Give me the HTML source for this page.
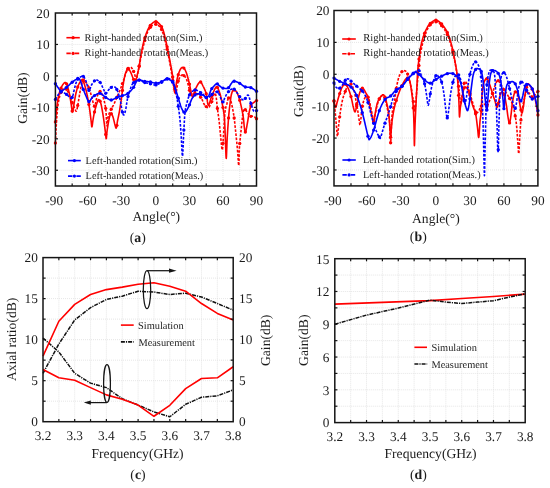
<!DOCTYPE html>
<html><head><meta charset="utf-8"><title>Figure</title>
<style>
html,body{margin:0;padding:0;background:#fff;}
svg{display:block;font-family:"Liberation Serif", serif;}
</style></head>
<body>
<svg width="550" height="488" viewBox="0 0 550 488" text-rendering="geometricPrecision">
<rect width="550" height="488" fill="#ffffff"/>
<line x1="72.16" y1="13.0" x2="72.16" y2="186.0" stroke="#e0e0e0" stroke-width="0.8" stroke-dasharray="1 1"/>
<line x1="88.92" y1="13.0" x2="88.92" y2="186.0" stroke="#e0e0e0" stroke-width="0.8" stroke-dasharray="1 1"/>
<line x1="105.67" y1="13.0" x2="105.67" y2="186.0" stroke="#e0e0e0" stroke-width="0.8" stroke-dasharray="1 1"/>
<line x1="122.43" y1="13.0" x2="122.43" y2="186.0" stroke="#e0e0e0" stroke-width="0.8" stroke-dasharray="1 1"/>
<line x1="139.19" y1="13.0" x2="139.19" y2="186.0" stroke="#e0e0e0" stroke-width="0.8" stroke-dasharray="1 1"/>
<line x1="155.95" y1="13.0" x2="155.95" y2="186.0" stroke="#e0e0e0" stroke-width="0.8" stroke-dasharray="1 1"/>
<line x1="172.71" y1="13.0" x2="172.71" y2="186.0" stroke="#e0e0e0" stroke-width="0.8" stroke-dasharray="1 1"/>
<line x1="189.47" y1="13.0" x2="189.47" y2="186.0" stroke="#e0e0e0" stroke-width="0.8" stroke-dasharray="1 1"/>
<line x1="206.22" y1="13.0" x2="206.22" y2="186.0" stroke="#e0e0e0" stroke-width="0.8" stroke-dasharray="1 1"/>
<line x1="222.98" y1="13.0" x2="222.98" y2="186.0" stroke="#e0e0e0" stroke-width="0.8" stroke-dasharray="1 1"/>
<line x1="239.74" y1="13.0" x2="239.74" y2="186.0" stroke="#e0e0e0" stroke-width="0.8" stroke-dasharray="1 1"/>
<line x1="55.4" y1="170.27" x2="256.5" y2="170.27" stroke="#e0e0e0" stroke-width="0.8" stroke-dasharray="1 1"/>
<line x1="55.4" y1="138.82" x2="256.5" y2="138.82" stroke="#e0e0e0" stroke-width="0.8" stroke-dasharray="1 1"/>
<line x1="55.4" y1="107.36" x2="256.5" y2="107.36" stroke="#e0e0e0" stroke-width="0.8" stroke-dasharray="1 1"/>
<line x1="55.4" y1="75.91" x2="256.5" y2="75.91" stroke="#e0e0e0" stroke-width="0.8" stroke-dasharray="1 1"/>
<line x1="55.4" y1="44.45" x2="256.5" y2="44.45" stroke="#e0e0e0" stroke-width="0.8" stroke-dasharray="1 1"/>
<polyline points="55.40,121.90 55.54,120.27 55.74,117.95 55.98,115.27 56.24,112.51 56.50,110.00 56.75,107.74 57.00,105.54 57.27,103.36 57.60,101.19 58.00,99.00 58.48,96.71 59.02,94.34 59.61,92.00 60.27,89.85 61.00,88.00 61.84,86.31 62.78,84.68 63.77,83.36 64.73,82.55 65.60,82.50 66.38,83.42 67.11,85.15 67.80,87.37 68.43,89.76 69.00,92.00 69.50,94.14 69.92,96.39 70.30,98.67 70.65,100.90 71.00,103.00 71.33,105.20 71.64,107.56 71.92,109.72 72.21,111.32 72.50,112.00 72.79,111.54 73.08,110.17 73.36,108.23 73.67,106.06 74.00,104.00 74.36,101.94 74.74,99.67 75.14,97.33 75.56,95.06 76.00,93.00 76.47,91.14 76.96,89.39 77.48,87.77 77.99,86.30 78.50,85.00 79.01,83.90 79.54,82.97 80.05,82.19 80.55,81.54 81.00,81.00 81.37,80.43 81.68,79.86 81.98,79.46 82.32,79.45 82.75,80.00 83.31,81.22 83.95,82.97 84.65,85.11 85.34,87.50 86.00,90.00 86.63,92.68 87.27,95.64 87.88,98.76 88.47,101.92 89.00,105.00 89.48,108.13 89.92,111.39 90.33,114.58 90.69,117.52 91.00,120.00 91.25,122.12 91.43,124.01 91.58,125.52 91.72,126.53 91.90,126.90 92.10,126.42 92.31,125.19 92.52,123.50 92.75,121.67 93.00,120.00 93.26,118.49 93.52,116.93 93.81,115.32 94.13,113.68 94.50,112.00 94.95,110.17 95.46,108.20 96.00,106.24 96.53,104.46 97.00,103.00 97.40,101.84 97.75,100.86 98.08,100.13 98.43,99.69 98.80,99.60 99.21,99.83 99.64,100.34 100.08,101.17 100.53,102.38 101.00,104.00 101.49,106.17 102.00,108.86 102.52,111.87 103.03,114.98 103.50,118.00 103.95,121.08 104.40,124.37 104.81,127.62 105.19,130.58 105.50,133.00 105.73,134.97 105.88,136.66 106.00,137.94 106.11,138.68 106.25,138.75 106.41,138.00 106.55,136.50 106.71,134.50 106.92,132.25 107.20,130.00 107.58,127.52 108.05,124.64 108.55,121.70 109.05,119.04 109.50,117.00 109.89,115.62 110.24,114.69 110.58,114.11 110.91,113.83 111.25,113.75 111.60,113.91 111.94,114.35 112.28,115.05 112.63,115.94 113.00,117.00 113.40,118.37 113.82,120.09 114.24,121.92 114.64,123.64 115.00,125.00 115.30,126.10 115.55,127.08 115.79,127.83 116.01,128.21 116.25,128.10 116.50,127.32 116.75,125.94 117.00,124.25 117.25,122.51 117.50,121.00 117.75,119.75 118.00,118.57 118.25,117.42 118.50,116.25 118.75,115.00 118.99,113.76 119.22,112.56 119.45,111.28 119.71,109.80 120.00,108.00 120.35,105.74 120.75,103.09 121.16,100.27 121.55,97.50 121.90,95.00 122.17,92.81 122.40,90.78 122.60,88.86 122.83,86.95 123.10,85.00 123.44,82.92 123.81,80.76 124.21,78.64 124.61,76.68 125.00,75.00 125.39,73.62 125.78,72.47 126.17,71.50 126.55,70.69 126.90,70.00 127.21,69.40 127.48,68.90 127.74,68.57 128.04,68.45 128.40,68.60 128.86,69.10 129.39,69.91 129.95,70.92 130.50,71.99 131.00,73.00 131.43,73.97 131.82,74.99 132.20,76.02 132.58,77.04 133.00,78.00 133.47,79.07 133.97,80.26 134.49,81.35 134.97,82.10 135.40,82.30 135.75,81.83 136.03,80.85 136.29,79.52 136.57,77.98 136.90,76.40 137.30,74.74 137.76,72.88 138.23,70.90 138.68,68.86 139.10,66.80 139.45,64.74 139.76,62.64 140.06,60.48 140.37,58.27 140.75,56.00 141.20,53.59 141.69,51.04 142.21,48.47 142.74,46.00 143.25,43.75 143.74,41.76 144.22,39.94 144.70,38.24 145.21,36.61 145.75,35.00 146.34,33.36 146.97,31.74 147.61,30.18 148.26,28.75 148.90,27.50 149.51,26.46 150.11,25.59 150.72,24.86 151.34,24.21 152.00,23.60 152.71,22.99 153.45,22.41 154.22,21.92 154.99,21.60 155.75,21.50 156.51,21.67 157.28,22.06 158.05,22.62 158.79,23.28 159.50,24.00 160.17,24.74 160.82,25.55 161.43,26.45 162.03,27.51 162.60,28.75 163.15,30.24 163.67,31.96 164.17,33.81 164.65,35.69 165.10,37.50 165.51,39.19 165.87,40.82 166.23,42.48 166.59,44.26 167.00,46.25 167.47,48.55 167.99,51.10 168.51,53.75 169.03,56.35 169.50,58.75 169.93,60.95 170.34,63.06 170.72,65.07 171.07,66.97 171.40,68.75 171.69,70.33 171.93,71.70 172.16,73.02 172.37,74.40 172.60,76.00 172.83,77.92 173.06,80.08 173.29,82.29 173.51,84.41 173.75,86.25 173.98,88.06 174.21,89.94 174.45,91.54 174.71,92.51 175.00,92.50 175.32,91.16 175.66,88.73 176.02,85.72 176.43,82.64 176.90,80.00 177.44,77.72 178.05,75.46 178.70,73.34 179.36,71.48 180.00,70.00 180.62,68.90 181.24,68.10 181.86,67.60 182.48,67.40 183.10,67.50 183.73,67.92 184.36,68.66 184.99,69.69 185.62,70.98 186.25,72.50 186.88,74.32 187.51,76.45 188.14,78.81 188.77,81.27 189.40,83.75 190.02,86.62 190.64,89.94 191.26,93.15 191.88,95.69 192.50,97.00 193.10,96.70 193.68,95.18 194.27,92.98 194.90,90.65 195.60,88.75 196.42,87.11 197.33,85.37 198.27,83.77 199.18,82.53 200.00,81.90 200.70,82.00 201.33,82.68 201.92,83.75 202.50,85.00 203.10,86.25 203.74,87.48 204.41,88.83 205.07,90.31 205.69,91.94 206.25,93.75 206.72,96.11 207.11,99.01 207.47,101.88 207.85,104.16 208.30,105.30 208.83,104.97 209.41,103.56 210.01,101.53 210.63,99.35 211.25,97.50 211.88,95.91 212.53,94.27 213.18,92.67 213.81,91.21 214.40,90.00 214.93,88.94 215.42,87.97 215.89,87.21 216.37,86.81 216.90,86.90 217.49,87.56 218.13,88.71 218.77,90.22 219.41,91.94 220.00,93.75 220.55,95.69 221.07,97.85 221.57,100.16 222.05,102.57 222.50,105.00 222.93,107.34 223.35,109.64 223.73,112.07 224.09,114.80 224.40,118.00 224.66,121.88 224.87,126.32 225.05,131.02 225.22,135.68 225.40,140.00 225.58,144.55 225.75,149.52 225.91,154.08 226.08,157.35 226.25,158.50 226.42,156.93 226.59,153.20 226.77,148.21 226.97,142.85 227.20,138.00 227.48,133.47 227.79,128.66 228.12,123.87 228.45,119.42 228.75,115.60 229.02,112.56 229.26,110.11 229.50,108.01 229.74,106.04 230.00,104.00 230.27,101.80 230.55,99.60 230.83,97.49 231.15,95.59 231.50,94.00 231.89,92.71 232.30,91.66 232.75,90.84 233.23,90.29 233.75,90.00 234.32,89.98 234.95,90.23 235.60,90.74 236.26,91.50 236.90,92.50 237.52,93.75 238.14,95.26 238.76,97.02 239.38,99.02 240.00,101.25 240.65,103.86 241.33,106.85 241.99,110.01 242.60,113.13 243.10,116.00 243.48,118.71 243.75,121.39 243.97,123.92 244.18,126.16 244.40,128.00 244.64,129.51 244.85,130.78 245.07,131.69 245.32,132.10 245.60,131.90 245.94,130.90 246.31,129.19 246.71,127.03 247.11,124.71 247.50,122.50 247.88,120.29 248.26,117.89 248.64,115.48 249.02,113.21 249.40,111.25 249.76,109.62 250.11,108.21 250.47,106.99 250.84,105.93 251.25,105.00 251.70,104.25 252.19,103.70 252.70,103.28 253.22,102.90 253.75,102.50 254.33,102.05 254.96,101.61 255.59,101.19 256.12,100.85 256.50,100.60" fill="none" stroke="#ff0000" stroke-width="1.6" stroke-linejoin="round" stroke-linecap="butt"/>
<circle cx="55.40" cy="121.90" r="1.65" fill="#ff0000"/>
<circle cx="60.99" cy="88.04" r="1.65" fill="#ff0000"/>
<circle cx="66.57" cy="83.87" r="1.65" fill="#ff0000"/>
<circle cx="72.16" cy="111.04" r="1.65" fill="#ff0000"/>
<circle cx="77.74" cy="87.00" r="1.65" fill="#ff0000"/>
<circle cx="83.33" cy="81.28" r="1.65" fill="#ff0000"/>
<circle cx="88.92" cy="104.52" r="1.65" fill="#ff0000"/>
<circle cx="94.50" cy="111.99" r="1.65" fill="#ff0000"/>
<circle cx="100.09" cy="101.20" r="1.65" fill="#ff0000"/>
<circle cx="105.67" cy="134.52" r="1.65" fill="#ff0000"/>
<circle cx="111.26" cy="113.76" r="1.65" fill="#ff0000"/>
<circle cx="116.85" cy="125.28" r="1.65" fill="#ff0000"/>
<circle cx="122.43" cy="90.44" r="1.65" fill="#ff0000"/>
<circle cx="128.02" cy="68.46" r="1.65" fill="#ff0000"/>
<circle cx="133.61" cy="79.39" r="1.65" fill="#ff0000"/>
<circle cx="139.19" cy="66.26" r="1.65" fill="#ff0000"/>
<circle cx="144.78" cy="38.00" r="1.65" fill="#ff0000"/>
<circle cx="150.36" cy="25.29" r="1.65" fill="#ff0000"/>
<circle cx="155.95" cy="21.54" r="1.65" fill="#ff0000"/>
<circle cx="161.54" cy="26.63" r="1.65" fill="#ff0000"/>
<circle cx="167.12" cy="46.85" r="1.65" fill="#ff0000"/>
<circle cx="172.71" cy="76.90" r="1.65" fill="#ff0000"/>
<circle cx="178.29" cy="74.67" r="1.65" fill="#ff0000"/>
<circle cx="183.88" cy="68.10" r="1.65" fill="#ff0000"/>
<circle cx="189.47" cy="84.06" r="1.65" fill="#ff0000"/>
<circle cx="195.05" cy="90.23" r="1.65" fill="#ff0000"/>
<circle cx="200.64" cy="81.99" r="1.65" fill="#ff0000"/>
<circle cx="206.22" cy="93.67" r="1.65" fill="#ff0000"/>
<circle cx="211.81" cy="96.08" r="1.65" fill="#ff0000"/>
<circle cx="217.40" cy="87.46" r="1.65" fill="#ff0000"/>
<circle cx="222.98" cy="107.62" r="1.65" fill="#ff0000"/>
<circle cx="228.57" cy="117.90" r="1.65" fill="#ff0000"/>
<circle cx="234.16" cy="89.99" r="1.65" fill="#ff0000"/>
<circle cx="239.74" cy="100.32" r="1.65" fill="#ff0000"/>
<circle cx="245.33" cy="132.09" r="1.65" fill="#ff0000"/>
<circle cx="250.91" cy="105.76" r="1.65" fill="#ff0000"/>
<circle cx="256.50" cy="100.60" r="1.65" fill="#ff0000"/>
<polyline points="55.40,143.10 55.52,140.62 55.68,137.11 55.87,133.03 56.08,128.84 56.30,125.00 56.52,121.47 56.74,117.93 56.98,114.46 57.26,111.13 57.60,108.00 58.00,105.03 58.45,102.18 58.94,99.50 59.46,97.09 60.00,95.00 60.57,93.27 61.18,91.86 61.81,90.70 62.42,89.77 63.00,89.00 63.52,88.37 63.99,87.90 64.45,87.66 64.94,87.67 65.50,88.00 66.14,88.72 66.85,89.80 67.59,91.12 68.32,92.56 69.00,94.00 69.63,95.49 70.24,97.10 70.82,98.78 71.41,100.43 72.00,102.00 72.62,103.54 73.27,105.11 73.91,106.61 74.50,107.94 75.00,109.00 75.40,109.86 75.71,110.59 75.97,111.09 76.22,111.26 76.50,111.00 76.79,110.26 77.08,109.09 77.36,107.59 77.67,105.86 78.00,104.00 78.37,101.87 78.76,99.42 79.18,96.82 79.59,94.29 80.00,92.00 80.41,89.91 80.83,87.90 81.25,86.02 81.64,84.37 82.00,83.00 82.28,81.93 82.50,81.10 82.71,80.52 82.96,80.15 83.30,80.00 83.75,80.10 84.27,80.47 84.84,81.03 85.42,81.73 86.00,82.50 86.56,83.30 87.14,84.18 87.72,85.19 88.30,86.38 88.90,87.80 89.52,89.56 90.15,91.62 90.79,93.82 91.42,96.00 92.00,98.00 92.54,100.06 93.04,102.30 93.53,104.34 94.01,105.80 94.50,106.30 94.99,105.51 95.47,103.66 95.96,101.29 96.46,98.90 97.00,97.00 97.58,95.48 98.21,94.00 98.85,92.73 99.48,91.84 100.10,91.50 100.70,91.80 101.28,92.62 101.86,93.84 102.44,95.34 103.00,97.00 103.58,98.82 104.16,100.88 104.73,103.18 105.25,105.72 105.70,108.50 106.05,112.06 106.32,116.39 106.55,120.69 106.76,124.16 107.00,126.00 107.23,125.71 107.44,123.83 107.66,121.09 107.93,118.24 108.30,116.00 108.79,114.41 109.37,112.97 110.01,111.65 110.65,110.41 111.25,109.20 111.81,108.09 112.35,107.09 112.89,106.13 113.44,105.13 114.00,104.00 114.58,102.72 115.18,101.33 115.79,99.89 116.40,98.43 117.00,97.00 117.60,95.62 118.20,94.25 118.80,92.87 119.40,91.46 120.00,90.00 120.60,88.48 121.20,86.92 121.80,85.32 122.40,83.68 123.00,82.00 123.61,80.19 124.22,78.26 124.84,76.32 125.43,74.53 126.00,73.00 126.54,71.76 127.06,70.73 127.55,69.86 128.03,69.13 128.50,68.50 128.94,67.95 129.35,67.51 129.76,67.20 130.17,67.06 130.60,67.10 131.07,67.36 131.56,67.83 132.05,68.45 132.54,69.18 133.00,70.00 133.44,70.95 133.87,72.06 134.28,73.25 134.66,74.42 135.00,75.50 135.28,76.66 135.51,77.97 135.72,79.15 135.93,79.92 136.20,80.00 136.50,79.31 136.82,78.04 137.16,76.30 137.55,74.25 138.00,72.00 138.52,69.42 139.11,66.43 139.74,63.23 140.38,60.02 141.00,57.00 141.60,54.15 142.20,51.32 142.80,48.58 143.40,45.95 144.00,43.50 144.60,41.21 145.20,39.05 145.80,37.03 146.40,35.18 147.00,33.50 147.60,32.02 148.20,30.73 148.80,29.60 149.40,28.59 150.00,27.70 150.61,26.93 151.22,26.30 151.83,25.79 152.43,25.36 153.00,25.00 153.54,24.70 154.05,24.48 154.56,24.35 155.07,24.29 155.60,24.30 156.16,24.37 156.73,24.51 157.32,24.73 157.91,25.05 158.50,25.50 159.10,26.07 159.72,26.75 160.33,27.55 160.93,28.46 161.50,29.50 162.03,30.66 162.54,31.94 163.02,33.34 163.51,34.86 164.00,36.50 164.50,38.28 165.00,40.19 165.50,42.21 166.00,44.32 166.50,46.50 167.01,48.79 167.52,51.20 168.04,53.68 168.53,56.13 169.00,58.50 169.43,60.74 169.84,62.90 170.22,65.04 170.61,67.22 171.00,69.50 171.39,71.92 171.77,74.43 172.16,76.98 172.56,79.52 173.00,82.00 173.48,84.77 174.01,87.88 174.55,90.78 175.08,92.92 175.60,93.75 176.09,92.81 176.57,90.45 177.04,87.39 177.52,84.34 178.00,82.00 178.49,80.40 178.99,79.07 179.49,77.97 179.99,77.06 180.50,76.30 181.00,75.68 181.51,75.22 182.02,74.95 182.54,74.87 183.10,75.00 183.71,75.37 184.36,75.97 185.03,76.76 185.67,77.70 186.25,78.75 186.77,80.00 187.25,81.46 187.70,83.02 188.11,84.57 188.50,86.00 188.83,87.34 189.11,88.68 189.36,89.95 189.65,91.08 190.00,92.00 190.44,92.70 190.93,93.22 191.45,93.59 191.98,93.84 192.50,94.00 192.98,93.99 193.45,93.80 193.93,93.54 194.44,93.33 195.00,93.30 195.64,93.45 196.34,93.70 197.07,94.05 197.80,94.48 198.50,95.00 199.17,95.62 199.84,96.34 200.50,97.15 201.12,98.01 201.70,98.90 202.22,99.88 202.69,100.97 203.13,102.08 203.56,103.12 204.00,104.00 204.45,104.70 204.89,105.28 205.32,105.77 205.76,106.20 206.20,106.60 206.65,107.02 207.11,107.43 207.56,107.78 208.00,107.99 208.40,108.00 208.76,107.77 209.08,107.34 209.38,106.77 209.68,106.14 210.00,105.50 210.34,104.87 210.69,104.21 211.04,103.49 211.40,102.69 211.75,101.80 212.10,100.73 212.46,99.50 212.82,98.22 213.17,97.01 213.50,96.00 213.82,95.09 214.13,94.21 214.43,93.49 214.72,93.04 215.00,93.00 215.28,93.41 215.55,94.20 215.81,95.28 216.06,96.57 216.30,98.00 216.51,99.60 216.69,101.42 216.86,103.41 217.06,105.52 217.30,107.70 217.60,109.95 217.94,112.30 218.30,114.76 218.66,117.33 219.00,120.00 219.31,122.83 219.60,125.81 219.89,128.87 220.19,131.96 220.50,135.00 220.84,138.48 221.21,142.44 221.57,146.16 221.93,148.92 222.25,150.00 222.53,149.05 222.77,146.54 223.01,143.02 223.24,138.99 223.50,135.00 223.78,130.68 224.06,125.67 224.36,120.52 224.67,115.78 225.00,112.00 225.37,109.35 225.76,107.48 226.17,106.11 226.56,104.96 226.90,103.75 227.18,102.48 227.42,101.34 227.64,100.32 227.86,99.46 228.10,98.75 228.36,98.16 228.63,97.68 228.91,97.37 229.19,97.29 229.50,97.50 229.82,97.98 230.14,98.69 230.48,99.66 230.85,100.92 231.25,102.50 231.71,104.46 232.23,106.79 232.76,109.39 233.28,112.16 233.75,115.00 234.16,117.93 234.53,121.00 234.89,124.22 235.24,127.55 235.60,131.00 235.99,134.66 236.39,138.55 236.78,142.50 237.16,146.37 237.50,150.00 237.80,153.87 238.08,158.08 238.32,161.91 238.55,164.66 238.75,165.60 238.91,164.13 239.03,160.73 239.13,156.30 239.24,151.76 239.40,148.00 239.60,145.10 239.84,142.44 240.09,139.94 240.34,137.49 240.60,135.00 240.86,132.43 241.12,129.84 241.38,127.30 241.64,124.83 241.90,122.50 242.14,120.23 242.35,117.99 242.57,115.88 242.82,114.02 243.10,112.50 243.42,111.32 243.75,110.41 244.12,109.77 244.53,109.43 245.00,109.40 245.55,109.82 246.18,110.69 246.85,111.79 247.50,112.88 248.10,113.75 248.63,114.41 249.11,115.00 249.58,115.52 250.07,115.94 250.60,116.25 251.20,116.37 251.84,116.31 252.51,116.19 253.15,116.13 253.75,116.25 254.33,116.63 254.92,117.19 255.46,117.81 255.92,118.37 256.25,118.75" fill="none" stroke="#ff0000" stroke-width="1.6" stroke-linejoin="round" stroke-linecap="butt" stroke-dasharray="2.6 1.5"/>
<circle cx="55.40" cy="143.10" r="1.65" fill="#ff0000"/>
<circle cx="60.99" cy="92.31" r="1.65" fill="#ff0000"/>
<circle cx="66.57" cy="89.37" r="1.65" fill="#ff0000"/>
<circle cx="72.16" cy="102.39" r="1.65" fill="#ff0000"/>
<circle cx="77.74" cy="105.43" r="1.65" fill="#ff0000"/>
<circle cx="83.33" cy="80.01" r="1.65" fill="#ff0000"/>
<circle cx="88.92" cy="87.85" r="1.65" fill="#ff0000"/>
<circle cx="94.50" cy="106.30" r="1.65" fill="#ff0000"/>
<circle cx="100.09" cy="91.51" r="1.65" fill="#ff0000"/>
<circle cx="105.67" cy="108.34" r="1.65" fill="#ff0000"/>
<circle cx="111.26" cy="109.18" r="1.65" fill="#ff0000"/>
<circle cx="116.85" cy="97.36" r="1.65" fill="#ff0000"/>
<circle cx="122.43" cy="83.59" r="1.65" fill="#ff0000"/>
<circle cx="128.02" cy="69.15" r="1.65" fill="#ff0000"/>
<circle cx="133.61" cy="71.38" r="1.65" fill="#ff0000"/>
<circle cx="139.19" cy="66.03" r="1.65" fill="#ff0000"/>
<circle cx="144.78" cy="40.57" r="1.65" fill="#ff0000"/>
<circle cx="150.36" cy="27.24" r="1.65" fill="#ff0000"/>
<circle cx="155.95" cy="24.35" r="1.65" fill="#ff0000"/>
<circle cx="161.54" cy="29.58" r="1.65" fill="#ff0000"/>
<circle cx="167.12" cy="49.32" r="1.65" fill="#ff0000"/>
<circle cx="172.71" cy="80.35" r="1.65" fill="#ff0000"/>
<circle cx="178.29" cy="81.04" r="1.65" fill="#ff0000"/>
<circle cx="183.88" cy="75.53" r="1.65" fill="#ff0000"/>
<circle cx="189.47" cy="90.36" r="1.65" fill="#ff0000"/>
<circle cx="195.05" cy="93.31" r="1.65" fill="#ff0000"/>
<circle cx="200.64" cy="97.34" r="1.65" fill="#ff0000"/>
<circle cx="206.22" cy="106.62" r="1.65" fill="#ff0000"/>
<circle cx="211.81" cy="101.62" r="1.65" fill="#ff0000"/>
<circle cx="217.40" cy="108.43" r="1.65" fill="#ff0000"/>
<circle cx="222.98" cy="143.36" r="1.65" fill="#ff0000"/>
<circle cx="228.57" cy="97.79" r="1.65" fill="#ff0000"/>
<circle cx="234.16" cy="117.89" r="1.65" fill="#ff0000"/>
<circle cx="239.74" cy="143.52" r="1.65" fill="#ff0000"/>
<circle cx="245.33" cy="109.65" r="1.65" fill="#ff0000"/>
<circle cx="250.91" cy="116.31" r="1.65" fill="#ff0000"/>
<circle cx="256.50" cy="118.75" r="1.65" fill="#ff0000"/>
<polyline points="55.40,83.75 55.75,84.26 56.23,84.98 56.81,85.82 57.41,86.69 58.00,87.50 58.58,88.32 59.20,89.23 59.82,90.09 60.43,90.79 61.00,91.20 61.52,91.26 62.01,91.06 62.48,90.68 62.97,90.23 63.50,89.80 64.04,89.41 64.58,89.00 65.15,88.54 65.81,87.98 66.60,87.30 67.60,86.40 68.77,85.32 70.01,84.17 71.19,83.09 72.20,82.20 73.01,81.53 73.70,81.00 74.30,80.57 74.89,80.18 75.50,79.80 76.15,79.38 76.81,78.93 77.46,78.55 78.06,78.32 78.60,78.30 79.05,78.49 79.42,78.85 79.75,79.37 80.10,80.09 80.50,81.00 80.96,82.20 81.44,83.66 81.94,85.28 82.46,86.94 83.00,88.50 83.55,90.00 84.13,91.50 84.71,92.99 85.31,94.43 85.90,95.80 86.50,97.22 87.11,98.70 87.72,100.06 88.32,101.12 88.90,101.70 89.44,101.64 89.95,101.06 90.45,100.20 90.96,99.27 91.50,98.50 92.03,97.89 92.55,97.29 93.09,96.70 93.73,96.14 94.50,95.60 95.45,95.00 96.55,94.33 97.74,93.73 98.94,93.34 100.10,93.30 101.22,93.73 102.34,94.55 103.46,95.56 104.58,96.57 105.70,97.40 106.81,98.10 107.92,98.80 109.03,99.41 110.14,99.84 111.25,100.00 112.36,99.80 113.47,99.30 114.58,98.63 115.69,97.95 116.80,97.40 117.92,96.99 119.06,96.62 120.19,96.29 121.31,95.95 122.40,95.60 123.44,95.29 124.45,95.05 125.45,94.77 126.46,94.36 127.50,93.75 128.63,92.87 129.82,91.79 131.01,90.58 132.13,89.33 133.10,88.10 133.90,86.83 134.57,85.45 135.15,84.10 135.70,82.87 136.25,81.90 136.74,81.19 137.15,80.68 137.55,80.33 138.06,80.11 138.75,80.00 139.68,80.06 140.79,80.30 141.99,80.64 143.22,80.99 144.40,81.25 145.52,81.41 146.64,81.53 147.76,81.63 148.88,81.74 150.00,81.90 151.12,82.14 152.24,82.46 153.36,82.77 154.48,83.00 155.60,83.10 156.73,83.04 157.86,82.87 158.99,82.62 160.12,82.29 161.25,81.90 162.38,81.34 163.51,80.58 164.64,79.82 165.77,79.24 166.90,79.00 168.07,79.17 169.29,79.61 170.49,80.27 171.58,81.05 172.50,81.90 173.19,82.78 173.69,83.73 174.11,84.81 174.51,86.06 175.00,87.50 175.58,89.22 176.19,91.18 176.83,93.29 177.47,95.43 178.10,97.50 178.73,99.58 179.36,101.74 179.99,103.86 180.62,105.82 181.25,107.50 181.89,108.94 182.54,110.22 183.19,111.28 183.81,112.06 184.40,112.50 184.94,112.52 185.45,112.16 185.93,111.54 186.41,110.78 186.90,110.00 187.40,109.18 187.90,108.24 188.40,107.21 188.90,106.12 189.40,105.00 189.89,103.79 190.37,102.47 190.86,101.13 191.36,99.86 191.90,98.75 192.49,97.80 193.13,96.95 193.77,96.20 194.41,95.55 195.00,95.00 195.53,94.56 196.01,94.23 196.49,93.99 196.97,93.84 197.50,93.75 198.08,93.75 198.69,93.85 199.33,94.01 199.97,94.20 200.60,94.40 201.24,94.60 201.89,94.82 202.53,95.06 203.16,95.32 203.75,95.60 204.29,95.96 204.80,96.41 205.28,96.84 205.76,97.17 206.25,97.30 206.75,97.25 207.25,97.08 207.75,96.76 208.25,96.28 208.75,95.60 209.24,94.63 209.72,93.37 210.20,91.99 210.71,90.65 211.25,89.50 211.85,88.55 212.49,87.68 213.16,86.91 213.80,86.21 214.40,85.60 214.93,85.03 215.42,84.50 215.89,84.08 216.37,83.81 216.90,83.75 217.48,83.98 218.10,84.47 218.73,85.09 219.37,85.72 220.00,86.25 220.59,86.69 221.15,87.13 221.72,87.52 222.36,87.86 223.10,88.10 224.01,88.28 225.06,88.43 226.16,88.48 227.20,88.39 228.10,88.10 228.82,87.52 229.42,86.69 229.95,85.74 230.46,84.80 231.00,84.00 231.51,83.29 231.97,82.58 232.45,81.95 233.02,81.48 233.75,81.25 234.70,81.29 235.80,81.57 237.00,82.00 238.23,82.53 239.40,83.10 240.52,83.79 241.64,84.63 242.76,85.52 243.88,86.31 245.00,86.90 246.12,87.17 247.23,87.22 248.34,87.19 249.46,87.23 250.60,87.50 251.86,88.11 253.22,88.95 254.55,89.87 255.69,90.69 256.50,91.25" fill="none" stroke="#0000ff" stroke-width="1.6" stroke-linejoin="round" stroke-linecap="butt"/>
<circle cx="55.40" cy="83.75" r="1.65" fill="#0000ff"/>
<circle cx="60.99" cy="91.19" r="1.65" fill="#0000ff"/>
<circle cx="66.57" cy="87.32" r="1.65" fill="#0000ff"/>
<circle cx="72.16" cy="82.24" r="1.65" fill="#0000ff"/>
<circle cx="77.74" cy="78.44" r="1.65" fill="#0000ff"/>
<circle cx="83.33" cy="89.39" r="1.65" fill="#0000ff"/>
<circle cx="88.92" cy="101.70" r="1.65" fill="#0000ff"/>
<circle cx="94.50" cy="95.60" r="1.65" fill="#0000ff"/>
<circle cx="100.09" cy="93.30" r="1.65" fill="#0000ff"/>
<circle cx="105.67" cy="97.38" r="1.65" fill="#0000ff"/>
<circle cx="111.26" cy="100.00" r="1.65" fill="#0000ff"/>
<circle cx="116.85" cy="97.38" r="1.65" fill="#0000ff"/>
<circle cx="122.43" cy="95.59" r="1.65" fill="#0000ff"/>
<circle cx="128.02" cy="93.35" r="1.65" fill="#0000ff"/>
<circle cx="133.61" cy="87.29" r="1.65" fill="#0000ff"/>
<circle cx="139.19" cy="80.03" r="1.65" fill="#0000ff"/>
<circle cx="144.78" cy="81.30" r="1.65" fill="#0000ff"/>
<circle cx="150.36" cy="81.98" r="1.65" fill="#0000ff"/>
<circle cx="155.95" cy="83.08" r="1.65" fill="#0000ff"/>
<circle cx="161.54" cy="81.76" r="1.65" fill="#0000ff"/>
<circle cx="167.12" cy="79.03" r="1.65" fill="#0000ff"/>
<circle cx="172.71" cy="82.17" r="1.65" fill="#0000ff"/>
<circle cx="178.29" cy="98.15" r="1.65" fill="#0000ff"/>
<circle cx="183.88" cy="112.11" r="1.65" fill="#0000ff"/>
<circle cx="189.47" cy="104.84" r="1.65" fill="#0000ff"/>
<circle cx="195.05" cy="94.96" r="1.65" fill="#0000ff"/>
<circle cx="200.64" cy="94.41" r="1.65" fill="#0000ff"/>
<circle cx="206.22" cy="97.29" r="1.65" fill="#0000ff"/>
<circle cx="211.81" cy="88.61" r="1.65" fill="#0000ff"/>
<circle cx="217.40" cy="83.95" r="1.65" fill="#0000ff"/>
<circle cx="222.98" cy="88.06" r="1.65" fill="#0000ff"/>
<circle cx="228.57" cy="87.72" r="1.65" fill="#0000ff"/>
<circle cx="234.16" cy="81.27" r="1.65" fill="#0000ff"/>
<circle cx="239.74" cy="83.31" r="1.65" fill="#0000ff"/>
<circle cx="245.33" cy="86.98" r="1.65" fill="#0000ff"/>
<circle cx="250.91" cy="87.65" r="1.65" fill="#0000ff"/>
<circle cx="256.50" cy="91.25" r="1.65" fill="#0000ff"/>
<polyline points="55.40,99.40 55.75,98.78 56.23,97.88 56.81,96.86 57.41,95.85 58.00,95.00 58.58,94.27 59.20,93.57 59.82,92.94 60.43,92.44 61.00,92.10 61.52,91.96 62.01,91.99 62.48,92.14 62.97,92.36 63.50,92.60 64.08,92.86 64.71,93.18 65.35,93.55 65.98,93.96 66.60,94.40 67.21,94.92 67.82,95.53 68.41,96.15 68.98,96.73 69.50,97.20 69.97,97.60 70.39,97.97 70.78,98.26 71.15,98.39 71.50,98.30 71.83,97.97 72.14,97.45 72.42,96.76 72.71,95.94 73.00,95.00 73.30,93.90 73.59,92.61 73.89,91.22 74.19,89.82 74.50,88.50 74.83,87.22 75.18,85.93 75.52,84.68 75.87,83.52 76.20,82.50 76.49,81.65 76.75,80.93 77.02,80.31 77.32,79.75 77.70,79.20 78.18,78.67 78.73,78.17 79.32,77.72 79.92,77.33 80.50,77.00 81.06,76.68 81.62,76.35 82.19,76.12 82.75,76.07 83.30,76.30 83.84,76.82 84.38,77.57 84.91,78.52 85.45,79.67 86.00,81.00 86.57,82.82 87.16,85.13 87.75,87.48 88.34,89.39 88.90,90.40 89.43,90.25 89.94,89.25 90.45,87.78 90.96,86.24 91.50,85.00 92.10,84.03 92.73,83.08 93.37,82.20 93.98,81.42 94.50,80.80 94.89,80.32 95.17,79.96 95.42,79.72 95.74,79.63 96.20,79.70 96.86,79.93 97.65,80.32 98.51,80.86 99.35,81.52 100.10,82.30 100.75,83.25 101.34,84.38 101.90,85.60 102.45,86.84 103.00,88.00 103.55,89.22 104.09,90.56 104.62,91.82 105.16,92.80 105.70,93.30 106.25,93.18 106.82,92.57 107.38,91.68 107.94,90.75 108.50,90.00 109.06,89.41 109.63,88.83 110.19,88.28 110.73,87.80 111.25,87.40 111.72,87.05 112.14,86.74 112.55,86.51 112.99,86.42 113.50,86.50 114.09,86.70 114.74,86.97 115.42,87.43 116.12,88.18 116.80,89.30 117.50,90.95 118.23,93.04 118.96,95.39 119.63,97.78 120.20,100.00 120.65,102.12 121.00,104.29 121.29,106.39 121.58,108.33 121.90,110.00 122.26,111.48 122.63,112.84 123.00,113.96 123.38,114.72 123.75,115.00 124.12,114.74 124.49,114.02 124.86,112.93 125.23,111.56 125.60,110.00 125.97,108.11 126.33,105.83 126.69,103.37 127.08,100.94 127.50,98.75 127.95,96.81 128.43,94.98 128.93,93.25 129.45,91.59 130.00,90.00 130.54,88.44 131.07,86.92 131.65,85.50 132.31,84.21 133.10,83.10 134.07,82.15 135.18,81.32 136.37,80.65 137.58,80.20 138.75,80.00 139.88,80.16 141.01,80.66 142.14,81.32 143.27,81.99 144.40,82.50 145.52,82.83 146.64,83.09 147.76,83.31 148.88,83.52 150.00,83.75 151.12,84.06 152.24,84.43 153.36,84.77 154.48,84.99 155.60,85.00 156.73,84.76 157.86,84.33 158.99,83.77 160.12,83.14 161.25,82.50 162.42,81.77 163.63,80.90 164.82,80.02 165.93,79.26 166.90,78.75 167.69,78.51 168.35,78.47 168.93,78.56 169.46,78.76 170.00,79.00 170.53,79.20 171.01,79.38 171.49,79.70 171.97,80.27 172.50,81.25 173.09,82.69 173.73,84.51 174.37,86.61 175.01,88.89 175.60,91.25 176.15,93.74 176.67,96.42 177.17,99.23 177.65,102.11 178.10,105.00 178.53,107.87 178.93,110.77 179.31,113.72 179.67,116.79 180.00,120.00 180.30,123.40 180.57,126.97 180.82,130.64 181.06,134.34 181.30,138.00 181.55,142.31 181.78,147.30 182.02,151.96 182.26,155.28 182.50,156.25 182.75,154.13 183.00,149.59 183.25,143.75 183.50,137.68 183.75,132.50 183.99,128.09 184.22,123.73 184.45,119.56 184.71,115.77 185.00,112.50 185.33,109.90 185.68,107.87 186.07,106.19 186.47,104.64 186.90,103.00 187.35,101.24 187.83,99.49 188.33,97.82 188.85,96.30 189.40,95.00 189.99,93.94 190.63,93.07 191.27,92.37 191.91,91.77 192.50,91.25 193.04,90.81 193.54,90.48 194.03,90.25 194.51,90.09 195.00,90.00 195.49,89.98 195.97,90.04 196.46,90.18 196.96,90.37 197.50,90.60 198.08,90.89 198.69,91.24 199.33,91.63 199.97,92.06 200.60,92.50 201.24,92.96 201.89,93.45 202.53,93.96 203.16,94.48 203.75,95.00 204.29,95.57 204.80,96.20 205.28,96.82 205.76,97.34 206.25,97.70 206.75,97.88 207.25,97.94 207.75,97.88 208.25,97.73 208.75,97.50 209.24,97.15 209.72,96.67 210.20,96.11 210.71,95.54 211.25,95.00 211.84,94.47 212.47,93.91 213.11,93.36 213.76,92.88 214.40,92.50 215.03,92.18 215.67,91.89 216.31,91.69 216.92,91.67 217.50,91.90 218.04,92.43 218.54,93.21 219.03,94.16 219.51,95.20 220.00,96.25 220.50,97.51 221.00,99.03 221.50,100.51 222.00,101.67 222.50,102.20 222.99,101.95 223.47,101.13 223.96,99.95 224.46,98.66 225.00,97.50 225.54,96.42 226.07,95.25 226.65,94.08 227.31,92.97 228.10,92.00 229.07,91.03 230.18,90.02 231.37,89.17 232.58,88.68 233.75,88.75 234.90,89.62 236.07,91.16 237.23,93.00 238.35,94.82 239.40,96.25 240.35,97.38 241.23,98.44 242.07,99.31 242.90,99.87 243.75,100.00 244.65,99.36 245.58,98.03 246.49,96.52 247.35,95.34 248.10,95.00 248.71,95.68 249.20,97.04 249.64,98.81 250.09,100.72 250.60,102.50 251.19,104.32 251.83,106.36 252.49,108.37 253.14,110.08 253.75,111.25 254.37,111.71 255.01,111.64 255.62,111.26 256.13,110.84 256.50,110.60" fill="none" stroke="#0000ff" stroke-width="1.6" stroke-linejoin="round" stroke-linecap="butt" stroke-dasharray="2.6 1.5"/>
<circle cx="55.40" cy="99.40" r="1.65" fill="#0000ff"/>
<circle cx="60.99" cy="92.11" r="1.65" fill="#0000ff"/>
<circle cx="66.57" cy="94.38" r="1.65" fill="#0000ff"/>
<circle cx="72.16" cy="97.40" r="1.65" fill="#0000ff"/>
<circle cx="77.74" cy="79.15" r="1.65" fill="#0000ff"/>
<circle cx="83.33" cy="76.33" r="1.65" fill="#0000ff"/>
<circle cx="88.92" cy="90.40" r="1.65" fill="#0000ff"/>
<circle cx="94.50" cy="80.80" r="1.65" fill="#0000ff"/>
<circle cx="100.09" cy="82.29" r="1.65" fill="#0000ff"/>
<circle cx="105.67" cy="93.28" r="1.65" fill="#0000ff"/>
<circle cx="111.26" cy="87.39" r="1.65" fill="#0000ff"/>
<circle cx="116.85" cy="89.41" r="1.65" fill="#0000ff"/>
<circle cx="122.43" cy="112.12" r="1.65" fill="#0000ff"/>
<circle cx="128.02" cy="96.55" r="1.65" fill="#0000ff"/>
<circle cx="133.61" cy="82.60" r="1.65" fill="#0000ff"/>
<circle cx="139.19" cy="80.06" r="1.65" fill="#0000ff"/>
<circle cx="144.78" cy="82.61" r="1.65" fill="#0000ff"/>
<circle cx="150.36" cy="83.85" r="1.65" fill="#0000ff"/>
<circle cx="155.95" cy="84.93" r="1.65" fill="#0000ff"/>
<circle cx="161.54" cy="82.32" r="1.65" fill="#0000ff"/>
<circle cx="167.12" cy="78.68" r="1.65" fill="#0000ff"/>
<circle cx="172.71" cy="81.76" r="1.65" fill="#0000ff"/>
<circle cx="178.29" cy="106.30" r="1.65" fill="#0000ff"/>
<circle cx="183.88" cy="130.10" r="1.65" fill="#0000ff"/>
<circle cx="189.47" cy="94.88" r="1.65" fill="#0000ff"/>
<circle cx="195.05" cy="90.00" r="1.65" fill="#0000ff"/>
<circle cx="200.64" cy="92.53" r="1.65" fill="#0000ff"/>
<circle cx="206.22" cy="97.68" r="1.65" fill="#0000ff"/>
<circle cx="211.81" cy="94.49" r="1.65" fill="#0000ff"/>
<circle cx="217.40" cy="91.86" r="1.65" fill="#0000ff"/>
<circle cx="222.98" cy="101.96" r="1.65" fill="#0000ff"/>
<circle cx="228.57" cy="91.53" r="1.65" fill="#0000ff"/>
<circle cx="234.16" cy="89.06" r="1.65" fill="#0000ff"/>
<circle cx="239.74" cy="96.66" r="1.65" fill="#0000ff"/>
<circle cx="245.33" cy="98.39" r="1.65" fill="#0000ff"/>
<circle cx="250.91" cy="103.46" r="1.65" fill="#0000ff"/>
<circle cx="256.50" cy="110.60" r="1.65" fill="#0000ff"/>
<text x="84.60" y="40.60" font-size="10.4" text-anchor="start" font-weight="normal" fill="#1c1c1c">Right-handed rotation(Sim.)</text>
<text x="84.60" y="56.20" font-size="10.4" text-anchor="start" font-weight="normal" fill="#1c1c1c">Right-handed rotation(Meas.)</text>
<text x="85.60" y="163.80" font-size="10.4" text-anchor="start" font-weight="normal" fill="#1c1c1c">Left-handed rotation(Sim.)</text>
<text x="85.60" y="179.20" font-size="10.4" text-anchor="start" font-weight="normal" fill="#1c1c1c">Left-handed rotation(Meas.)</text>
<line x1="66.4" y1="37.7" x2="79.8" y2="37.7" stroke="#ff0000" stroke-width="1.6"/>
<circle cx="73.10" cy="37.7" r="1.6" fill="#ff0000"/>
<line x1="66.4" y1="53.4" x2="79.8" y2="53.4" stroke="#ff0000" stroke-width="1.6" stroke-dasharray="4.4 4.0 4.4"/>
<circle cx="73.10" cy="53.4" r="1.6" fill="#ff0000"/>
<line x1="68.0" y1="160.6" x2="80.8" y2="160.6" stroke="#0000ff" stroke-width="1.6"/>
<circle cx="74.40" cy="160.6" r="1.6" fill="#0000ff"/>
<line x1="68.0" y1="176.1" x2="80.8" y2="176.1" stroke="#0000ff" stroke-width="1.6" stroke-dasharray="4.4 4.0 4.4"/>
<circle cx="74.40" cy="176.1" r="1.6" fill="#0000ff"/>
<rect x="55.4" y="13.0" width="201.10" height="173.00" fill="none" stroke="#151515" stroke-width="1.5"/>
<line x1="72.16" y1="186.0" x2="72.16" y2="183.4" stroke="#151515" stroke-width="1.2"/>
<line x1="72.16" y1="13.0" x2="72.16" y2="15.6" stroke="#151515" stroke-width="1.2"/>
<line x1="88.92" y1="186.0" x2="88.92" y2="183.4" stroke="#151515" stroke-width="1.2"/>
<line x1="88.92" y1="13.0" x2="88.92" y2="15.6" stroke="#151515" stroke-width="1.2"/>
<line x1="105.67" y1="186.0" x2="105.67" y2="183.4" stroke="#151515" stroke-width="1.2"/>
<line x1="105.67" y1="13.0" x2="105.67" y2="15.6" stroke="#151515" stroke-width="1.2"/>
<line x1="122.43" y1="186.0" x2="122.43" y2="183.4" stroke="#151515" stroke-width="1.2"/>
<line x1="122.43" y1="13.0" x2="122.43" y2="15.6" stroke="#151515" stroke-width="1.2"/>
<line x1="139.19" y1="186.0" x2="139.19" y2="183.4" stroke="#151515" stroke-width="1.2"/>
<line x1="139.19" y1="13.0" x2="139.19" y2="15.6" stroke="#151515" stroke-width="1.2"/>
<line x1="155.95" y1="186.0" x2="155.95" y2="183.4" stroke="#151515" stroke-width="1.2"/>
<line x1="155.95" y1="13.0" x2="155.95" y2="15.6" stroke="#151515" stroke-width="1.2"/>
<line x1="172.71" y1="186.0" x2="172.71" y2="183.4" stroke="#151515" stroke-width="1.2"/>
<line x1="172.71" y1="13.0" x2="172.71" y2="15.6" stroke="#151515" stroke-width="1.2"/>
<line x1="189.47" y1="186.0" x2="189.47" y2="183.4" stroke="#151515" stroke-width="1.2"/>
<line x1="189.47" y1="13.0" x2="189.47" y2="15.6" stroke="#151515" stroke-width="1.2"/>
<line x1="206.22" y1="186.0" x2="206.22" y2="183.4" stroke="#151515" stroke-width="1.2"/>
<line x1="206.22" y1="13.0" x2="206.22" y2="15.6" stroke="#151515" stroke-width="1.2"/>
<line x1="222.98" y1="186.0" x2="222.98" y2="183.4" stroke="#151515" stroke-width="1.2"/>
<line x1="222.98" y1="13.0" x2="222.98" y2="15.6" stroke="#151515" stroke-width="1.2"/>
<line x1="239.74" y1="186.0" x2="239.74" y2="183.4" stroke="#151515" stroke-width="1.2"/>
<line x1="239.74" y1="13.0" x2="239.74" y2="15.6" stroke="#151515" stroke-width="1.2"/>
<line x1="55.4" y1="170.27" x2="58.0" y2="170.27" stroke="#151515" stroke-width="1.2"/>
<line x1="256.5" y1="170.27" x2="253.9" y2="170.27" stroke="#151515" stroke-width="1.2"/>
<line x1="55.4" y1="138.82" x2="58.0" y2="138.82" stroke="#151515" stroke-width="1.2"/>
<line x1="256.5" y1="138.82" x2="253.9" y2="138.82" stroke="#151515" stroke-width="1.2"/>
<line x1="55.4" y1="107.36" x2="58.0" y2="107.36" stroke="#151515" stroke-width="1.2"/>
<line x1="256.5" y1="107.36" x2="253.9" y2="107.36" stroke="#151515" stroke-width="1.2"/>
<line x1="55.4" y1="75.91" x2="58.0" y2="75.91" stroke="#151515" stroke-width="1.2"/>
<line x1="256.5" y1="75.91" x2="253.9" y2="75.91" stroke="#151515" stroke-width="1.2"/>
<line x1="55.4" y1="44.45" x2="58.0" y2="44.45" stroke="#151515" stroke-width="1.2"/>
<line x1="256.5" y1="44.45" x2="253.9" y2="44.45" stroke="#151515" stroke-width="1.2"/>
<text x="49.60" y="174.97" font-size="13.3" text-anchor="end" font-weight="normal" fill="#1c1c1c">-30</text>
<text x="49.60" y="143.52" font-size="13.3" text-anchor="end" font-weight="normal" fill="#1c1c1c">-20</text>
<text x="49.60" y="112.06" font-size="13.3" text-anchor="end" font-weight="normal" fill="#1c1c1c">-10</text>
<text x="49.60" y="80.61" font-size="13.3" text-anchor="end" font-weight="normal" fill="#1c1c1c">0</text>
<text x="49.60" y="49.15" font-size="13.3" text-anchor="end" font-weight="normal" fill="#1c1c1c">10</text>
<text x="49.60" y="17.70" font-size="13.3" text-anchor="end" font-weight="normal" fill="#1c1c1c">20</text>
<text x="54.20" y="204.75" font-size="13.3" text-anchor="middle" font-weight="normal" fill="#1c1c1c">-90</text>
<text x="87.72" y="204.75" font-size="13.3" text-anchor="middle" font-weight="normal" fill="#1c1c1c">-60</text>
<text x="121.23" y="204.75" font-size="13.3" text-anchor="middle" font-weight="normal" fill="#1c1c1c">-30</text>
<text x="155.95" y="204.75" font-size="13.3" text-anchor="middle" font-weight="normal" fill="#1c1c1c">0</text>
<text x="189.47" y="204.75" font-size="13.3" text-anchor="middle" font-weight="normal" fill="#1c1c1c">30</text>
<text x="222.98" y="204.75" font-size="13.3" text-anchor="middle" font-weight="normal" fill="#1c1c1c">60</text>
<text x="256.50" y="204.75" font-size="13.3" text-anchor="middle" font-weight="normal" fill="#1c1c1c">90</text>
<text x="156.30" y="220.80" font-size="13.6" text-anchor="middle" font-weight="normal" fill="#1c1c1c">Angle(°)</text>
<text x="26.90" y="98.10" font-size="13.6" text-anchor="middle" font-weight="normal" fill="#1c1c1c" transform="rotate(-90 26.90 98.10)">Gain(dB)</text>
<text x="137.8" y="241.6" font-size="13.8" text-anchor="middle" fill="#1c1c1c">(<tspan font-weight="bold">a</tspan>)</text>
<line x1="350.99" y1="10.5" x2="350.99" y2="185.9" stroke="#e0e0e0" stroke-width="0.8" stroke-dasharray="1 1"/>
<line x1="367.98" y1="10.5" x2="367.98" y2="185.9" stroke="#e0e0e0" stroke-width="0.8" stroke-dasharray="1 1"/>
<line x1="384.98" y1="10.5" x2="384.98" y2="185.9" stroke="#e0e0e0" stroke-width="0.8" stroke-dasharray="1 1"/>
<line x1="401.97" y1="10.5" x2="401.97" y2="185.9" stroke="#e0e0e0" stroke-width="0.8" stroke-dasharray="1 1"/>
<line x1="418.96" y1="10.5" x2="418.96" y2="185.9" stroke="#e0e0e0" stroke-width="0.8" stroke-dasharray="1 1"/>
<line x1="435.95" y1="10.5" x2="435.95" y2="185.9" stroke="#e0e0e0" stroke-width="0.8" stroke-dasharray="1 1"/>
<line x1="452.94" y1="10.5" x2="452.94" y2="185.9" stroke="#e0e0e0" stroke-width="0.8" stroke-dasharray="1 1"/>
<line x1="469.93" y1="10.5" x2="469.93" y2="185.9" stroke="#e0e0e0" stroke-width="0.8" stroke-dasharray="1 1"/>
<line x1="486.92" y1="10.5" x2="486.92" y2="185.9" stroke="#e0e0e0" stroke-width="0.8" stroke-dasharray="1 1"/>
<line x1="503.92" y1="10.5" x2="503.92" y2="185.9" stroke="#e0e0e0" stroke-width="0.8" stroke-dasharray="1 1"/>
<line x1="520.91" y1="10.5" x2="520.91" y2="185.9" stroke="#e0e0e0" stroke-width="0.8" stroke-dasharray="1 1"/>
<line x1="334.0" y1="169.95" x2="537.9" y2="169.95" stroke="#e0e0e0" stroke-width="0.8" stroke-dasharray="1 1"/>
<line x1="334.0" y1="138.06" x2="537.9" y2="138.06" stroke="#e0e0e0" stroke-width="0.8" stroke-dasharray="1 1"/>
<line x1="334.0" y1="106.17" x2="537.9" y2="106.17" stroke="#e0e0e0" stroke-width="0.8" stroke-dasharray="1 1"/>
<line x1="334.0" y1="74.28" x2="537.9" y2="74.28" stroke="#e0e0e0" stroke-width="0.8" stroke-dasharray="1 1"/>
<line x1="334.0" y1="42.39" x2="537.9" y2="42.39" stroke="#e0e0e0" stroke-width="0.8" stroke-dasharray="1 1"/>
<polyline points="334.00,101.00 334.22,102.08 334.52,103.71 334.88,105.45 335.25,106.86 335.60,107.50 335.91,107.21 336.20,106.30 336.50,104.98 336.82,103.48 337.20,102.00 337.64,100.47 338.13,98.74 338.64,96.93 339.16,95.18 339.66,93.60 340.13,92.19 340.58,90.87 341.04,89.64 341.50,88.52 342.00,87.50 342.52,86.51 343.07,85.55 343.63,84.74 344.21,84.18 344.80,84.00 345.42,84.25 346.06,84.84 346.72,85.71 347.37,86.79 348.00,88.00 348.62,89.40 349.25,91.02 349.86,92.81 350.45,94.69 351.00,96.60 351.51,98.65 352.00,100.89 352.46,103.15 352.89,105.24 353.30,107.00 353.68,108.50 354.03,109.86 354.36,110.96 354.68,111.68 355.00,111.90 355.31,111.55 355.59,110.73 355.88,109.51 356.20,107.99 356.60,106.25 357.08,104.08 357.62,101.41 358.21,98.59 358.81,95.92 359.40,93.75 359.98,92.02 360.58,90.51 361.18,89.31 361.78,88.48 362.40,88.10 363.04,88.33 363.70,89.11 364.37,90.21 365.01,91.42 365.60,92.50 366.13,93.34 366.61,94.10 367.06,94.93 367.52,96.01 368.00,97.50 368.52,99.58 369.06,102.15 369.60,104.93 370.12,107.64 370.60,110.00 371.04,112.04 371.44,113.93 371.82,115.66 372.17,117.19 372.50,118.50 372.79,119.68 373.05,120.75 373.28,121.56 373.51,121.99 373.75,121.90 373.98,121.18 374.19,119.94 374.41,118.31 374.67,116.45 375.00,114.50 375.40,112.30 375.85,109.76 376.35,107.11 376.90,104.61 377.50,102.50 378.19,100.80 378.97,99.35 379.78,98.11 380.56,97.09 381.25,96.25 381.83,95.56 382.34,95.03 382.81,94.72 383.27,94.69 383.75,95.00 384.25,95.67 384.75,96.66 385.25,97.94 385.75,99.48 386.25,101.25 386.77,103.32 387.31,105.72 387.85,108.32 388.34,111.04 388.75,113.75 389.07,116.56 389.33,119.55 389.54,122.56 389.72,125.43 389.90,128.00 390.07,130.51 390.21,133.05 390.33,135.30 390.46,136.89 390.60,137.50 390.75,136.82 390.90,135.09 391.05,132.75 391.22,130.24 391.40,128.00 391.58,126.08 391.75,124.18 391.94,122.24 392.19,120.20 392.50,118.00 392.87,115.62 393.28,113.11 393.75,110.49 394.32,107.78 395.00,105.00 395.84,102.05 396.82,98.90 397.88,95.74 398.96,92.71 400.00,90.00 401.03,87.55 402.10,85.26 403.14,83.18 404.13,81.41 405.00,80.00 405.74,78.99 406.39,78.34 406.97,77.98 407.50,77.89 408.00,78.00 408.46,78.27 408.87,78.74 409.25,79.46 409.62,80.53 410.00,82.00 410.41,84.02 410.83,86.55 411.25,89.37 411.64,92.26 412.00,95.00 412.31,97.52 412.60,99.96 412.86,102.44 413.09,105.08 413.30,108.00 413.48,111.25 413.64,114.76 413.77,118.44 413.89,122.22 414.00,126.00 414.10,130.44 414.17,135.61 414.24,140.51 414.31,144.16 414.40,145.60 414.50,144.23 414.61,140.70 414.72,135.89 414.85,130.70 415.00,126.00 415.17,121.71 415.37,117.23 415.58,112.70 415.79,108.25 416.00,104.00 416.21,99.91 416.42,95.90 416.63,92.02 416.83,88.37 417.00,85.00 417.13,82.01 417.24,79.34 417.33,76.88 417.44,74.47 417.60,72.00 417.81,69.47 418.04,66.96 418.31,64.48 418.59,61.99 418.90,59.50 419.23,56.93 419.60,54.29 419.98,51.68 420.37,49.22 420.75,47.00 421.11,45.08 421.46,43.39 421.81,41.84 422.19,40.37 422.60,38.90 423.05,37.43 423.52,36.02 424.02,34.66 424.55,33.32 425.10,32.00 425.68,30.67 426.28,29.33 426.92,28.04 427.57,26.83 428.25,25.75 428.96,24.81 429.71,23.98 430.47,23.25 431.24,22.59 432.00,22.00 432.75,21.44 433.50,20.92 434.25,20.50 435.00,20.21 435.75,20.10 436.51,20.22 437.28,20.53 438.05,20.97 438.79,21.48 439.50,22.00 440.16,22.52 440.78,23.09 441.39,23.71 441.99,24.38 442.60,25.10 443.24,25.89 443.89,26.74 444.53,27.63 445.16,28.56 445.75,29.50 446.29,30.42 446.80,31.34 447.28,32.29 447.76,33.33 448.25,34.50 448.75,35.80 449.25,37.20 449.75,38.70 450.25,40.30 450.75,42.00 451.26,43.84 451.78,45.82 452.30,47.88 452.79,49.96 453.25,52.00 453.66,53.98 454.03,55.93 454.39,57.89 454.74,59.90 455.10,62.00 455.49,64.16 455.89,66.35 456.29,68.61 456.66,70.98 457.00,73.50 457.29,76.18 457.55,79.01 457.78,81.95 458.00,84.96 458.20,88.00 458.39,91.15 458.56,94.44 458.72,97.75 458.87,100.97 459.00,104.00 459.11,107.13 459.21,110.43 459.29,113.46 459.39,115.76 459.50,116.90 459.64,116.46 459.79,114.75 459.95,112.36 460.13,109.91 460.30,108.00 460.47,106.76 460.63,105.80 460.80,104.90 461.00,103.87 461.25,102.50 461.57,100.62 461.95,98.37 462.35,96.01 462.74,93.80 463.10,92.00 463.39,90.64 463.64,89.53 463.89,88.65 464.16,87.98 464.50,87.50 464.91,87.18 465.36,87.03 465.85,87.09 466.37,87.40 466.90,88.00 467.47,88.94 468.08,90.19 468.70,91.67 469.32,93.30 469.90,95.00 470.44,96.83 470.94,98.84 471.44,100.95 471.95,103.03 472.50,105.00 473.11,106.75 473.76,108.35 474.42,109.95 475.05,111.70 475.60,113.75 476.07,116.24 476.48,119.07 476.84,122.03 477.18,124.91 477.50,127.50 477.79,130.16 478.05,133.03 478.28,135.57 478.51,137.24 478.75,137.50 479.00,135.83 479.25,132.59 479.50,128.56 479.75,124.52 480.00,121.25 480.26,118.93 480.53,117.04 480.79,115.31 481.04,113.47 481.25,111.25 481.40,108.53 481.51,105.48 481.60,102.29 481.72,99.15 481.90,96.25 482.13,93.52 482.39,90.83 482.70,88.29 483.06,85.98 483.50,84.00 484.04,82.28 484.68,80.74 485.37,79.51 486.06,78.70 486.70,78.40 487.28,78.74 487.84,79.64 488.38,80.93 488.93,82.44 489.50,84.00 490.10,85.70 490.71,87.66 491.33,89.73 491.93,91.76 492.50,93.60 493.04,95.24 493.56,96.76 494.06,98.21 494.54,99.61 495.00,101.00 495.44,102.57 495.85,104.29 496.24,105.88 496.62,107.05 497.00,107.50 497.37,107.04 497.74,105.86 498.10,104.26 498.45,102.54 498.80,101.00 499.14,99.55 499.47,98.00 499.80,96.46 500.14,95.09 500.50,94.00 500.88,93.18 501.28,92.55 501.69,92.13 502.10,91.94 502.50,92.00 502.90,92.32 503.30,92.88 503.70,93.68 504.10,94.72 504.50,96.00 504.91,97.60 505.32,99.52 505.74,101.64 506.13,103.84 506.50,106.00 506.83,108.21 507.14,110.56 507.42,112.90 507.71,115.10 508.00,117.00 508.30,118.76 508.60,120.47 508.90,121.92 509.20,122.87 509.50,123.10 509.80,122.47 510.10,121.12 510.40,119.27 510.70,117.16 511.00,115.00 511.29,112.65 511.58,109.96 511.86,107.15 512.17,104.42 512.50,102.00 512.87,99.82 513.26,97.73 513.68,95.83 514.09,94.22 514.50,93.00 514.90,92.19 515.30,91.74 515.70,91.58 516.10,91.69 516.50,92.00 516.90,92.52 517.30,93.28 517.70,94.28 518.10,95.52 518.50,97.00 518.91,98.91 519.32,101.25 519.74,103.74 520.13,106.08 520.50,108.00 520.83,109.59 521.14,111.05 521.42,112.22 521.71,112.96 522.00,113.10 522.30,112.52 522.60,111.33 522.90,109.71 523.20,107.86 523.50,106.00 523.78,104.05 524.05,101.87 524.33,99.57 524.64,97.25 525.00,95.00 525.44,92.63 525.93,90.06 526.45,87.60 526.98,85.55 527.50,84.20 528.00,83.73 528.51,83.94 529.01,84.57 529.51,85.34 530.00,86.00 530.47,86.51 530.94,87.05 531.40,87.66 531.85,88.40 532.30,89.30 532.75,90.37 533.20,91.58 533.64,92.92 534.07,94.39 534.50,96.00 534.92,97.80 535.34,99.81 535.75,101.91 536.14,104.01 536.50,106.00 536.84,108.01 537.17,110.10 537.47,112.10 537.72,113.79 537.90,115.00" fill="none" stroke="#ff0000" stroke-width="1.6" stroke-linejoin="round" stroke-linecap="butt"/>
<circle cx="334.00" cy="101.00" r="1.65" fill="#ff0000"/>
<circle cx="339.66" cy="93.59" r="1.65" fill="#ff0000"/>
<circle cx="345.33" cy="84.21" r="1.65" fill="#ff0000"/>
<circle cx="350.99" cy="96.57" r="1.65" fill="#ff0000"/>
<circle cx="356.66" cy="106.00" r="1.65" fill="#ff0000"/>
<circle cx="362.32" cy="88.15" r="1.65" fill="#ff0000"/>
<circle cx="367.98" cy="97.45" r="1.65" fill="#ff0000"/>
<circle cx="373.65" cy="121.94" r="1.65" fill="#ff0000"/>
<circle cx="379.31" cy="98.83" r="1.65" fill="#ff0000"/>
<circle cx="384.98" cy="97.24" r="1.65" fill="#ff0000"/>
<circle cx="390.64" cy="137.32" r="1.65" fill="#ff0000"/>
<circle cx="396.30" cy="100.56" r="1.65" fill="#ff0000"/>
<circle cx="401.97" cy="85.54" r="1.65" fill="#ff0000"/>
<circle cx="407.63" cy="77.92" r="1.65" fill="#ff0000"/>
<circle cx="413.29" cy="107.92" r="1.65" fill="#ff0000"/>
<circle cx="418.96" cy="59.05" r="1.65" fill="#ff0000"/>
<circle cx="424.62" cy="33.14" r="1.65" fill="#ff0000"/>
<circle cx="430.29" cy="23.42" r="1.65" fill="#ff0000"/>
<circle cx="435.95" cy="20.13" r="1.65" fill="#ff0000"/>
<circle cx="441.61" cy="23.96" r="1.65" fill="#ff0000"/>
<circle cx="447.28" cy="32.28" r="1.65" fill="#ff0000"/>
<circle cx="452.94" cy="50.63" r="1.65" fill="#ff0000"/>
<circle cx="458.61" cy="95.33" r="1.65" fill="#ff0000"/>
<circle cx="464.27" cy="87.83" r="1.65" fill="#ff0000"/>
<circle cx="469.93" cy="95.11" r="1.65" fill="#ff0000"/>
<circle cx="475.60" cy="113.74" r="1.65" fill="#ff0000"/>
<circle cx="481.26" cy="111.05" r="1.65" fill="#ff0000"/>
<circle cx="486.92" cy="78.53" r="1.65" fill="#ff0000"/>
<circle cx="492.59" cy="93.87" r="1.65" fill="#ff0000"/>
<circle cx="498.25" cy="103.50" r="1.65" fill="#ff0000"/>
<circle cx="503.92" cy="94.24" r="1.65" fill="#ff0000"/>
<circle cx="509.58" cy="122.93" r="1.65" fill="#ff0000"/>
<circle cx="515.24" cy="91.80" r="1.65" fill="#ff0000"/>
<circle cx="520.91" cy="109.96" r="1.65" fill="#ff0000"/>
<circle cx="526.57" cy="87.14" r="1.65" fill="#ff0000"/>
<circle cx="532.24" cy="89.17" r="1.65" fill="#ff0000"/>
<circle cx="537.90" cy="115.00" r="1.65" fill="#ff0000"/>
<polyline points="334.00,101.00 334.16,102.43 334.39,104.42 334.66,106.78 334.93,109.37 335.20,112.00 335.46,114.84 335.73,117.99 336.00,121.22 336.26,124.30 336.50,127.00 336.72,129.51 336.92,132.00 337.11,134.16 337.30,135.68 337.50,136.25 337.70,135.60 337.89,133.92 338.09,131.65 338.29,129.20 338.50,127.00 338.71,125.04 338.93,123.05 339.16,121.02 339.40,118.97 339.66,116.90 339.95,114.77 340.26,112.56 340.58,110.36 340.91,108.24 341.25,106.25 341.58,104.42 341.91,102.70 342.25,101.07 342.61,99.51 343.00,98.00 343.43,96.56 343.89,95.18 344.36,93.87 344.84,92.62 345.30,91.40 345.74,90.19 346.18,89.00 346.61,87.88 347.05,86.86 347.50,86.00 347.97,85.28 348.46,84.66 348.94,84.18 349.43,83.85 349.90,83.70 350.35,83.72 350.79,83.89 351.22,84.24 351.66,84.77 352.10,85.50 352.57,86.50 353.06,87.76 353.54,89.17 354.00,90.65 354.40,92.10 354.73,93.50 355.01,94.90 355.26,96.35 355.52,97.87 355.80,99.50 356.12,101.26 356.47,103.12 356.82,105.06 357.17,107.03 357.50,109.00 357.82,111.03 358.14,113.16 358.45,115.26 358.74,117.25 359.00,119.00 359.23,120.66 359.44,122.31 359.62,123.73 359.81,124.70 360.00,125.00 360.20,124.48 360.40,123.28 360.60,121.64 360.80,119.80 361.00,118.00 361.18,116.16 361.35,114.12 361.53,112.00 361.74,109.92 362.00,108.00 362.33,106.20 362.72,104.45 363.13,102.80 363.57,101.30 364.00,100.00 364.43,98.89 364.88,97.93 365.34,97.15 365.80,96.58 366.25,96.25 366.70,96.15 367.16,96.25 367.62,96.59 368.07,97.16 368.50,98.00 368.92,99.17 369.32,100.65 369.71,102.36 370.10,104.17 370.50,106.00 370.91,107.94 371.34,110.05 371.75,112.20 372.15,114.23 372.50,116.00 372.79,117.68 373.03,119.37 373.25,120.80 373.48,121.73 373.75,121.90 374.06,121.07 374.40,119.41 374.76,117.28 375.13,115.02 375.50,113.00 375.88,111.17 376.26,109.29 376.65,107.42 377.06,105.64 377.50,104.00 377.98,102.46 378.49,100.98 379.01,99.63 379.52,98.45 380.00,97.50 380.42,96.82 380.81,96.38 381.18,96.11 381.57,95.97 382.00,95.90 382.51,95.89 383.07,95.99 383.64,96.19 384.17,96.53 384.60,97.00 384.91,97.63 385.13,98.42 385.30,99.32 385.48,100.33 385.70,101.40 385.96,102.49 386.24,103.62 386.53,104.87 386.85,106.30 387.20,108.00 387.61,109.88 388.08,111.88 388.56,114.14 389.01,116.80 389.40,120.00 389.71,124.62 389.96,130.56 390.18,136.51 390.39,141.13 390.60,143.10 390.81,141.55 391.02,137.36 391.22,131.83 391.41,126.28 391.60,122.00 391.77,119.11 391.92,116.75 392.07,114.74 392.26,112.88 392.50,111.00 392.82,109.22 393.19,107.67 393.60,106.16 394.01,104.50 394.40,102.50 394.76,100.05 395.11,97.26 395.47,94.32 395.84,91.42 396.25,88.75 396.71,86.24 397.20,83.77 397.72,81.43 398.24,79.31 398.75,77.50 399.25,76.05 399.75,74.90 400.25,73.98 400.75,73.20 401.25,72.50 401.74,71.86 402.22,71.33 402.70,70.94 403.21,70.69 403.75,70.60 404.35,70.65 404.99,70.82 405.66,71.15 406.30,71.70 406.90,72.50 407.44,73.58 407.95,74.92 408.43,76.46 408.91,78.17 409.40,80.00 409.91,82.00 410.44,84.21 410.96,86.53 411.46,88.91 411.90,91.25 412.28,93.61 412.62,96.05 412.92,98.47 413.21,100.82 413.50,103.00 413.78,105.31 414.05,107.81 414.30,110.04 414.55,111.59 414.80,112.00 415.04,111.01 415.28,108.90 415.52,106.10 415.76,102.99 416.00,100.00 416.26,97.02 416.52,93.79 416.78,90.45 417.04,87.14 417.30,84.00 417.54,81.06 417.77,78.21 418.00,75.43 418.24,72.70 418.50,70.00 418.77,67.30 419.05,64.63 419.35,62.01 419.66,59.46 420.00,57.00 420.36,54.65 420.74,52.38 421.14,50.20 421.56,48.07 422.00,46.00 422.46,43.97 422.94,42.00 423.44,40.08 423.96,38.25 424.50,36.50 425.06,34.83 425.64,33.24 426.24,31.72 426.86,30.31 427.50,29.00 428.15,27.80 428.82,26.69 429.50,25.69 430.23,24.79 431.00,24.00 431.84,23.30 432.75,22.69 433.69,22.20 434.62,21.85 435.50,21.70 436.34,21.76 437.16,22.02 437.96,22.42 438.74,22.93 439.50,23.50 440.24,24.15 440.96,24.92 441.66,25.76 442.34,26.63 443.00,27.50 443.64,28.35 444.26,29.22 444.86,30.10 445.44,31.03 446.00,32.00 446.53,33.00 447.04,34.03 447.52,35.11 448.01,36.26 448.50,37.50 449.00,38.83 449.50,40.24 450.00,41.72 450.50,43.31 451.00,45.00 451.51,46.84 452.02,48.82 452.54,50.88 453.03,52.96 453.50,55.00 453.94,56.98 454.35,58.95 454.74,60.93 455.12,62.94 455.50,65.00 455.88,67.12 456.25,69.28 456.61,71.48 456.96,73.72 457.30,76.00 457.62,78.35 457.94,80.78 458.24,83.22 458.52,85.65 458.80,88.00 459.06,90.38 459.31,92.81 459.55,95.15 459.78,97.26 460.00,99.00 460.21,100.42 460.41,101.63 460.61,102.53 460.80,103.02 461.00,103.00 461.19,102.35 461.38,101.14 461.56,99.54 461.77,97.77 462.00,96.00 462.27,94.10 462.56,91.93 462.88,89.71 463.19,87.66 463.50,86.00 463.79,84.72 464.08,83.68 464.36,82.88 464.67,82.32 465.00,82.00 465.35,81.90 465.72,82.01 466.11,82.37 466.53,83.02 467.00,84.00 467.53,85.44 468.11,87.31 468.72,89.41 469.32,91.54 469.90,93.50 470.43,95.24 470.94,96.90 471.44,98.55 471.95,100.23 472.50,102.00 473.10,104.05 473.74,106.33 474.39,108.58 475.02,110.52 475.60,111.90 476.11,112.64 476.57,112.94 477.01,112.87 477.47,112.53 478.00,112.00 478.61,111.13 479.28,109.85 479.98,108.40 480.66,107.04 481.30,106.00 481.87,105.28 482.41,104.72 482.93,104.32 483.45,104.08 484.00,104.00 484.59,104.26 485.20,104.85 485.82,105.51 486.43,105.98 487.00,106.00 487.53,105.46 488.04,104.55 488.52,103.41 489.01,102.18 489.50,101.00 490.00,99.90 490.50,98.77 491.00,97.59 491.50,96.34 492.00,95.00 492.49,93.50 492.97,91.87 493.46,90.19 493.96,88.54 494.50,87.00 495.08,85.44 495.71,83.81 496.35,82.31 496.98,81.14 497.60,80.50 498.18,80.52 498.74,81.06 499.29,81.94 499.87,82.98 500.50,84.00 501.20,85.07 501.97,86.32 502.75,87.62 503.50,88.89 504.20,90.00 504.83,90.93 505.41,91.74 505.96,92.50 506.49,93.23 507.00,94.00 507.49,94.78 507.94,95.55 508.38,96.33 508.82,97.14 509.30,98.00 509.82,98.87 510.36,99.74 510.92,100.66 511.47,101.73 512.00,103.00 512.52,104.48 513.04,106.12 513.55,107.92 514.04,109.88 514.50,112.00 514.94,114.28 515.37,116.72 515.77,119.32 516.15,122.08 516.50,125.00 516.81,128.23 517.09,131.76 517.34,135.39 517.57,138.87 517.80,142.00 518.01,145.09 518.21,148.30 518.39,151.14 518.57,153.12 518.75,153.75 518.92,152.73 519.08,150.39 519.23,147.17 519.40,143.56 519.60,140.00 519.83,136.27 520.07,132.07 520.34,127.72 520.61,123.59 520.90,120.00 521.20,117.02 521.52,114.43 521.85,112.13 522.18,110.02 522.50,108.00 522.79,106.16 523.05,104.56 523.33,103.08 523.63,101.60 524.00,100.00 524.45,98.09 524.97,95.94 525.52,93.86 526.08,92.11 526.60,91.00 527.08,90.66 527.53,90.91 527.98,91.53 528.47,92.30 529.00,93.00 529.61,93.77 530.28,94.74 530.98,95.74 531.66,96.55 532.30,97.00 532.88,97.01 533.41,96.71 533.93,96.21 534.46,95.60 535.00,95.00 535.61,94.31 536.28,93.46 536.94,92.60 537.50,91.83 537.90,91.30" fill="none" stroke="#ff0000" stroke-width="1.6" stroke-linejoin="round" stroke-linecap="butt" stroke-dasharray="2.6 1.5"/>
<circle cx="334.00" cy="101.00" r="1.65" fill="#ff0000"/>
<circle cx="339.66" cy="116.87" r="1.65" fill="#ff0000"/>
<circle cx="345.33" cy="91.32" r="1.65" fill="#ff0000"/>
<circle cx="350.99" cy="84.05" r="1.65" fill="#ff0000"/>
<circle cx="356.66" cy="104.16" r="1.65" fill="#ff0000"/>
<circle cx="362.32" cy="106.27" r="1.65" fill="#ff0000"/>
<circle cx="367.98" cy="97.06" r="1.65" fill="#ff0000"/>
<circle cx="373.65" cy="121.84" r="1.65" fill="#ff0000"/>
<circle cx="379.31" cy="98.94" r="1.65" fill="#ff0000"/>
<circle cx="384.98" cy="97.87" r="1.65" fill="#ff0000"/>
<circle cx="390.64" cy="142.82" r="1.65" fill="#ff0000"/>
<circle cx="396.30" cy="88.46" r="1.65" fill="#ff0000"/>
<circle cx="401.97" cy="71.61" r="1.65" fill="#ff0000"/>
<circle cx="407.63" cy="74.08" r="1.65" fill="#ff0000"/>
<circle cx="413.29" cy="101.43" r="1.65" fill="#ff0000"/>
<circle cx="418.96" cy="65.54" r="1.65" fill="#ff0000"/>
<circle cx="424.62" cy="36.14" r="1.65" fill="#ff0000"/>
<circle cx="430.29" cy="24.73" r="1.65" fill="#ff0000"/>
<circle cx="435.95" cy="21.73" r="1.65" fill="#ff0000"/>
<circle cx="441.61" cy="25.70" r="1.65" fill="#ff0000"/>
<circle cx="447.28" cy="34.57" r="1.65" fill="#ff0000"/>
<circle cx="452.94" cy="52.58" r="1.65" fill="#ff0000"/>
<circle cx="458.61" cy="86.34" r="1.65" fill="#ff0000"/>
<circle cx="464.27" cy="83.14" r="1.65" fill="#ff0000"/>
<circle cx="469.93" cy="93.61" r="1.65" fill="#ff0000"/>
<circle cx="475.60" cy="111.89" r="1.65" fill="#ff0000"/>
<circle cx="481.26" cy="106.06" r="1.65" fill="#ff0000"/>
<circle cx="486.92" cy="106.00" r="1.65" fill="#ff0000"/>
<circle cx="492.59" cy="93.17" r="1.65" fill="#ff0000"/>
<circle cx="498.25" cy="80.59" r="1.65" fill="#ff0000"/>
<circle cx="503.92" cy="89.55" r="1.65" fill="#ff0000"/>
<circle cx="509.58" cy="98.47" r="1.65" fill="#ff0000"/>
<circle cx="515.24" cy="116.00" r="1.65" fill="#ff0000"/>
<circle cx="520.91" cy="119.92" r="1.65" fill="#ff0000"/>
<circle cx="526.57" cy="91.06" r="1.65" fill="#ff0000"/>
<circle cx="532.24" cy="96.95" r="1.65" fill="#ff0000"/>
<circle cx="537.90" cy="91.30" r="1.65" fill="#ff0000"/>
<polyline points="334.00,78.11 334.77,78.56 335.86,79.19 337.13,79.93 338.44,80.66 339.66,81.30 340.80,81.81 341.93,82.27 343.06,82.70 344.20,83.16 345.33,83.69 346.46,84.22 347.59,84.72 348.73,85.29 349.86,86.03 350.99,87.04 352.12,88.26 353.26,89.64 354.39,91.24 355.52,93.17 356.66,95.49 357.79,98.25 358.92,101.38 360.05,104.84 361.19,108.58 362.32,112.55 363.51,117.18 364.77,122.51 366.00,127.89 367.10,132.65 367.98,136.15 368.56,138.24 368.89,139.36 369.11,139.72 369.36,139.53 369.80,139.02 370.41,138.16 371.10,136.80 371.88,134.99 372.73,132.74 373.65,130.09 374.66,126.74 375.78,122.67 376.96,118.33 378.15,114.17 379.31,110.64 380.44,107.75 381.58,105.21 382.71,102.99 383.84,101.09 384.97,99.48 386.11,98.33 387.24,97.66 388.37,97.21 389.51,96.73 390.64,95.97 391.77,94.83 392.90,93.48 394.04,92.06 395.17,90.72 396.30,89.59 397.44,88.78 398.57,88.20 399.70,87.69 400.83,87.09 401.97,86.24 403.10,85.08 404.23,83.70 405.36,82.22 406.50,80.74 407.63,79.38 408.81,78.09 410.03,76.79 411.23,75.55 412.34,74.48 413.29,73.64 414.04,73.08 414.63,72.73 415.13,72.55 415.61,72.49 416.13,72.53 416.65,72.63 417.12,72.83 417.62,73.16 418.21,73.63 418.96,74.28 419.91,75.22 421.02,76.41 422.22,77.72 423.44,78.97 424.62,80.02 425.75,80.94 426.89,81.82 428.02,82.56 429.15,83.06 430.29,83.21 431.42,82.88 432.55,82.16 433.68,81.21 434.82,80.22 435.95,79.38 437.08,78.70 438.22,78.03 439.35,77.39 440.48,76.78 441.61,76.20 442.75,75.60 443.88,75.01 445.01,74.45 446.15,73.98 447.28,73.64 448.41,73.41 449.54,73.25 450.68,73.20 451.81,73.32 452.94,73.64 454.13,74.23 455.37,75.05 456.58,76.02 457.69,77.06 458.61,78.11 459.28,79.13 459.77,80.18 460.15,81.29 460.49,82.50 460.87,83.85 461.29,85.40 461.69,87.13 462.08,88.95 462.45,90.75 462.80,92.46 463.12,94.06 463.41,95.62 463.69,97.14 463.97,98.64 464.27,100.11 464.60,101.61 464.94,103.13 465.29,104.61 465.63,105.96 465.97,107.13 466.30,108.18 466.63,109.17 466.95,109.98 467.26,110.50 467.55,110.64 467.83,110.30 468.08,109.56 468.33,108.55 468.56,107.38 468.80,106.17 469.03,104.99 469.23,103.74 469.44,102.35 469.67,100.74 469.93,98.84 470.24,96.51 470.57,93.81 470.93,90.93 471.28,88.08 471.63,85.44 471.96,82.97 472.28,80.51 472.61,78.18 472.96,76.07 473.33,74.28 473.75,72.86 474.21,71.73 474.69,70.83 475.16,70.11 475.60,69.50 475.98,69.00 476.30,68.66 476.64,68.46 477.03,68.43 477.52,68.54 478.18,68.72 478.96,68.95 479.78,69.39 480.58,70.16 481.26,71.41 481.82,73.23 482.30,75.53 482.73,78.16 483.13,80.98 483.53,83.85 483.90,86.91 484.25,90.25 484.57,93.66 484.90,96.92 485.23,99.79 485.57,102.58 485.93,105.42 486.29,107.89 486.62,109.56 486.92,110.00 487.18,108.90 487.39,106.54 487.59,103.39 487.80,99.93 488.06,96.61 488.36,93.20 488.70,89.40 489.05,85.55 489.41,81.99 489.76,79.07 490.09,76.85 490.41,75.11 490.74,73.74 491.08,72.65 491.46,71.73 491.87,71.06 492.32,70.69 492.79,70.54 493.26,70.49 493.72,70.45 494.17,70.43 494.63,70.50 495.08,70.63 495.53,70.83 495.99,71.09 496.45,71.41 496.92,71.78 497.39,72.22 497.84,72.73 498.25,73.33 498.63,73.95 498.97,74.59 499.30,75.33 499.62,76.26 499.95,77.47 500.30,78.99 500.65,80.75 501.00,82.72 501.33,84.83 501.65,87.04 501.95,89.45 502.24,92.09 502.52,94.81 502.77,97.44 503.01,99.79 503.22,102.16 503.39,104.65 503.56,106.85 503.73,108.35 503.92,108.72 504.12,107.63 504.33,105.35 504.54,102.39 504.78,99.30 505.05,96.61 505.33,94.18 505.63,91.67 505.96,89.27 506.33,87.13 506.75,85.44 507.24,84.31 507.80,83.61 508.39,83.19 509.00,82.89 509.58,82.57 510.15,82.21 510.71,81.90 511.28,81.68 511.85,81.57 512.41,81.62 512.99,81.79 513.57,82.08 514.15,82.50 514.71,83.09 515.24,83.85 515.74,84.84 516.22,86.06 516.67,87.41 517.10,88.82 517.51,90.23 517.89,91.70 518.23,93.28 518.56,94.87 518.88,96.34 519.21,97.56 519.55,98.61 519.89,99.56 520.23,100.31 520.57,100.79 520.91,100.91 521.25,100.60 521.59,99.92 521.93,98.96 522.27,97.82 522.61,96.61 522.94,95.18 523.26,93.50 523.59,91.72 523.93,90.04 524.31,88.63 524.73,87.50 525.20,86.52 525.68,85.69 526.15,85.01 526.57,84.49 526.93,84.13 527.24,83.95 527.54,83.91 527.87,83.99 528.27,84.17 528.77,84.45 529.35,84.86 529.96,85.38 530.56,86.00 531.10,86.72 531.59,87.53 532.05,88.44 532.49,89.45 532.92,90.58 533.37,91.82 533.82,93.19 534.28,94.67 534.73,96.26 535.18,97.97 535.63,99.79 536.12,101.95 536.65,104.45 537.16,106.94 537.59,109.12 537.90,110.64" fill="none" stroke="#0000ff" stroke-width="1.6" stroke-linejoin="round" stroke-linecap="butt"/>
<circle cx="334.00" cy="78.11" r="1.65" fill="#0000ff"/>
<circle cx="339.66" cy="81.30" r="1.65" fill="#0000ff"/>
<circle cx="345.33" cy="83.69" r="1.65" fill="#0000ff"/>
<circle cx="350.99" cy="87.04" r="1.65" fill="#0000ff"/>
<circle cx="356.66" cy="95.49" r="1.65" fill="#0000ff"/>
<circle cx="362.32" cy="112.55" r="1.65" fill="#0000ff"/>
<circle cx="367.98" cy="136.15" r="1.65" fill="#0000ff"/>
<circle cx="373.65" cy="130.09" r="1.65" fill="#0000ff"/>
<circle cx="379.31" cy="110.64" r="1.65" fill="#0000ff"/>
<circle cx="384.98" cy="99.48" r="1.65" fill="#0000ff"/>
<circle cx="390.64" cy="95.97" r="1.65" fill="#0000ff"/>
<circle cx="396.30" cy="89.59" r="1.65" fill="#0000ff"/>
<circle cx="401.97" cy="86.24" r="1.65" fill="#0000ff"/>
<circle cx="407.63" cy="79.38" r="1.65" fill="#0000ff"/>
<circle cx="413.29" cy="73.64" r="1.65" fill="#0000ff"/>
<circle cx="418.96" cy="74.28" r="1.65" fill="#0000ff"/>
<circle cx="424.62" cy="80.02" r="1.65" fill="#0000ff"/>
<circle cx="430.29" cy="83.21" r="1.65" fill="#0000ff"/>
<circle cx="435.95" cy="79.38" r="1.65" fill="#0000ff"/>
<circle cx="441.61" cy="76.20" r="1.65" fill="#0000ff"/>
<circle cx="447.28" cy="73.64" r="1.65" fill="#0000ff"/>
<circle cx="452.94" cy="73.64" r="1.65" fill="#0000ff"/>
<circle cx="458.61" cy="78.11" r="1.65" fill="#0000ff"/>
<circle cx="464.27" cy="100.11" r="1.65" fill="#0000ff"/>
<circle cx="469.93" cy="98.84" r="1.65" fill="#0000ff"/>
<circle cx="475.60" cy="69.50" r="1.65" fill="#0000ff"/>
<circle cx="481.26" cy="71.41" r="1.65" fill="#0000ff"/>
<circle cx="486.92" cy="110.00" r="1.65" fill="#0000ff"/>
<circle cx="492.59" cy="70.60" r="1.65" fill="#0000ff"/>
<circle cx="498.25" cy="73.33" r="1.65" fill="#0000ff"/>
<circle cx="503.92" cy="108.72" r="1.65" fill="#0000ff"/>
<circle cx="509.58" cy="82.57" r="1.65" fill="#0000ff"/>
<circle cx="515.24" cy="83.85" r="1.65" fill="#0000ff"/>
<circle cx="520.91" cy="100.91" r="1.65" fill="#0000ff"/>
<circle cx="526.57" cy="84.49" r="1.65" fill="#0000ff"/>
<circle cx="532.24" cy="88.87" r="1.65" fill="#0000ff"/>
<circle cx="537.90" cy="110.64" r="1.65" fill="#0000ff"/>
<polyline points="334.00,82.90 334.24,83.50 334.57,84.37 334.97,85.35 335.42,86.28 335.90,87.00 336.43,87.53 337.03,87.98 337.65,88.32 338.29,88.50 338.90,88.50 339.48,88.29 340.04,87.90 340.60,87.35 341.18,86.68 341.80,85.90 342.47,84.90 343.19,83.67 343.92,82.38 344.64,81.20 345.30,80.30 345.90,79.69 346.47,79.26 347.01,79.00 347.54,78.88 348.10,78.90 348.63,79.06 349.12,79.38 349.63,79.84 350.24,80.42 351.00,81.10 351.96,81.94 353.08,82.95 354.29,84.04 355.52,85.15 356.70,86.20 357.87,87.18 359.07,88.14 360.24,89.09 361.34,90.04 362.30,91.00 363.09,91.93 363.74,92.83 364.32,93.74 364.85,94.72 365.40,95.80 365.94,96.93 366.44,98.06 366.94,99.31 367.45,100.76 368.00,102.50 368.62,104.70 369.30,107.29 369.98,110.04 370.65,112.69 371.25,115.00 371.76,116.88 372.21,118.49 372.63,119.98 373.08,121.47 373.60,123.10 374.21,124.98 374.89,127.01 375.60,129.04 376.28,130.92 376.90,132.50 377.46,133.75 377.99,134.77 378.48,135.61 378.92,136.30 379.30,136.90 379.59,137.47 379.79,138.00 379.95,138.35 380.14,138.43 380.40,138.10 380.75,137.27 381.15,136.00 381.58,134.47 382.04,132.83 382.50,131.25 382.97,129.68 383.47,128.02 383.98,126.33 384.49,124.67 385.00,123.10 385.49,121.69 385.97,120.39 386.46,119.11 386.96,117.76 387.50,116.25 388.10,114.50 388.75,112.57 389.42,110.58 390.05,108.65 390.60,106.90 391.03,105.39 391.36,104.05 391.66,102.78 392.02,101.46 392.50,100.00 393.11,98.31 393.79,96.45 394.55,94.57 395.39,92.79 396.30,91.25 397.32,90.05 398.45,89.10 399.64,88.25 400.84,87.35 402.00,86.25 403.12,84.88 404.24,83.34 405.36,81.74 406.48,80.17 407.60,78.75 408.73,77.45 409.87,76.21 411.02,75.04 412.16,74.00 413.30,73.10 414.50,72.29 415.75,71.54 416.97,70.95 418.08,70.61 419.00,70.60 419.65,70.97 420.10,71.65 420.44,72.60 420.78,73.73 421.25,75.00 421.87,76.39 422.56,77.95 423.28,79.68 423.98,81.61 424.60,83.75 425.14,86.28 425.65,89.18 426.11,92.19 426.53,95.05 426.90,97.50 427.21,99.65 427.45,101.68 427.67,103.41 427.87,104.67 428.10,105.30 428.36,105.09 428.63,104.17 428.90,102.82 429.16,101.33 429.40,100.00 429.58,98.87 429.73,97.75 429.87,96.57 430.04,95.26 430.30,93.75 430.64,91.96 431.03,89.93 431.47,87.80 431.96,85.69 432.50,83.75 433.12,81.85 433.82,79.90 434.56,78.09 435.28,76.60 435.95,75.60 436.55,75.20 437.11,75.26 437.66,75.66 438.20,76.25 438.75,76.90 439.33,77.56 439.91,78.32 440.50,79.25 441.07,80.42 441.60,81.90 442.10,83.74 442.58,85.90 443.04,88.29 443.47,90.83 443.88,93.42 444.26,96.17 444.60,99.15 444.93,102.19 445.25,105.12 445.58,107.77 445.92,110.40 446.26,113.13 446.60,115.56 446.94,117.30 447.28,117.97 447.62,117.30 447.96,115.56 448.30,113.13 448.64,110.40 448.98,107.77 449.31,105.11 449.63,102.17 449.96,99.13 450.30,96.15 450.68,93.42 451.09,90.90 451.54,88.48 452.01,86.20 452.48,84.11 452.94,82.25 453.38,80.64 453.79,79.23 454.22,78.03 454.68,77.02 455.21,76.20 455.83,75.52 456.54,75.00 457.27,74.70 457.98,74.65 458.61,74.92 459.13,75.51 459.59,76.37 460.02,77.52 460.44,78.95 460.87,80.66 461.33,82.80 461.80,85.38 462.26,88.16 462.71,90.92 463.14,93.42 463.53,95.90 463.91,98.51 464.26,100.90 464.61,102.72 464.95,103.62 465.28,103.41 465.59,102.33 465.90,100.65 466.21,98.65 466.53,96.61 466.87,94.37 467.21,91.76 467.55,89.00 467.89,86.29 468.23,83.85 468.56,81.72 468.86,79.76 469.17,77.91 469.52,76.10 469.93,74.28 470.43,72.37 470.98,70.40 471.58,68.50 472.18,66.78 472.77,65.35 473.33,64.19 473.90,63.22 474.46,62.48 475.03,62.01 475.60,61.84 476.17,62.04 476.75,62.57 477.33,63.36 477.89,64.31 478.43,65.35 478.96,66.38 479.48,67.46 479.98,68.73 480.43,70.32 480.81,72.37 481.10,74.77 481.31,77.44 481.48,80.53 481.64,84.21 481.83,88.63 482.05,94.09 482.29,100.48 482.53,107.35 482.75,114.29 482.96,120.84 483.14,127.06 483.31,133.24 483.46,139.30 483.61,145.19 483.75,150.82 483.90,156.92 484.04,163.53 484.17,169.57 484.31,173.99 484.43,175.69 484.55,173.99 484.66,169.57 484.77,163.53 484.88,156.92 485.00,150.82 485.13,145.16 485.28,139.23 485.42,133.12 485.58,126.96 485.74,120.84 485.90,114.45 486.06,107.71 486.23,101.10 486.40,95.12 486.59,90.23 486.77,86.67 486.96,84.13 487.16,82.25 487.38,80.68 487.60,79.07 487.85,77.42 488.12,75.99 488.40,74.73 488.69,73.64 488.96,72.69 489.22,71.88 489.46,71.25 489.71,70.75 489.99,70.39 490.32,70.14 490.72,69.99 491.18,69.96 491.66,70.05 492.14,70.27 492.59,70.61 493.01,70.97 493.43,71.34 493.83,71.89 494.19,72.81 494.51,74.28 494.77,76.18 494.97,78.40 495.15,81.09 495.32,84.45 495.53,88.63 495.79,93.94 496.06,100.26 496.35,107.15 496.63,114.16 496.89,120.84 497.14,128.21 497.37,136.55 497.59,144.36 497.81,150.15 498.03,152.41 498.24,150.13 498.44,144.30 498.64,136.46 498.84,128.13 499.05,120.84 499.25,114.33 499.45,107.57 499.65,100.97 499.85,94.94 500.07,89.91 500.28,86.00 500.50,82.93 500.72,80.52 500.96,78.55 501.20,76.83 501.46,75.48 501.73,74.61 502.00,74.07 502.28,73.70 502.56,73.33 502.81,72.93 503.06,72.61 503.31,72.42 503.59,72.38 503.92,72.53 504.31,72.86 504.76,73.35 505.23,74.01 505.71,74.84 506.18,75.88 506.64,77.15 507.09,78.66 507.54,80.32 507.99,82.08 508.45,83.85 508.90,85.66 509.35,87.56 509.81,89.51 510.26,91.48 510.71,93.42 511.17,95.40 511.62,97.44 512.07,99.46 512.53,101.34 512.98,102.98 513.44,104.56 513.91,106.12 514.38,107.45 514.83,108.29 515.24,108.41 515.62,107.63 515.96,106.12 516.29,104.14 516.61,101.95 516.94,99.79 517.27,97.54 517.60,95.01 517.92,92.43 518.27,90.02 518.64,87.99 519.07,86.38 519.55,85.02 520.04,83.89 520.50,82.98 520.91,82.25 521.23,81.73 521.48,81.42 521.72,81.31 521.97,81.38 522.27,81.62 522.63,82.08 523.02,82.78 523.44,83.63 523.87,84.55 524.31,85.44 524.74,86.32 525.17,87.24 525.61,88.20 526.08,89.19 526.57,90.23 527.11,91.36 527.68,92.58 528.26,93.82 528.84,94.98 529.40,95.97 529.94,96.82 530.47,97.59 530.99,98.24 531.50,98.72 532.01,99.00 532.50,98.99 532.97,98.74 533.45,98.34 533.95,97.91 534.50,97.56 535.18,97.28 535.96,96.98 536.74,96.70 537.42,96.46 537.90,96.29" fill="none" stroke="#0000ff" stroke-width="1.6" stroke-linejoin="round" stroke-linecap="butt" stroke-dasharray="2.6 1.5"/>
<circle cx="334.00" cy="82.90" r="1.65" fill="#0000ff"/>
<circle cx="339.66" cy="88.16" r="1.65" fill="#0000ff"/>
<circle cx="345.33" cy="80.27" r="1.65" fill="#0000ff"/>
<circle cx="350.99" cy="81.09" r="1.65" fill="#0000ff"/>
<circle cx="356.66" cy="86.16" r="1.65" fill="#0000ff"/>
<circle cx="362.32" cy="91.02" r="1.65" fill="#0000ff"/>
<circle cx="367.98" cy="102.45" r="1.65" fill="#0000ff"/>
<circle cx="373.65" cy="123.24" r="1.65" fill="#0000ff"/>
<circle cx="379.31" cy="136.92" r="1.65" fill="#0000ff"/>
<circle cx="384.98" cy="123.18" r="1.65" fill="#0000ff"/>
<circle cx="390.64" cy="106.76" r="1.65" fill="#0000ff"/>
<circle cx="396.30" cy="91.25" r="1.65" fill="#0000ff"/>
<circle cx="401.97" cy="86.28" r="1.65" fill="#0000ff"/>
<circle cx="407.63" cy="78.71" r="1.65" fill="#0000ff"/>
<circle cx="413.29" cy="73.10" r="1.65" fill="#0000ff"/>
<circle cx="418.96" cy="70.60" r="1.65" fill="#0000ff"/>
<circle cx="424.62" cy="83.85" r="1.65" fill="#0000ff"/>
<circle cx="430.29" cy="93.83" r="1.65" fill="#0000ff"/>
<circle cx="435.95" cy="75.60" r="1.65" fill="#0000ff"/>
<circle cx="441.61" cy="81.95" r="1.65" fill="#0000ff"/>
<circle cx="447.28" cy="117.97" r="1.65" fill="#0000ff"/>
<circle cx="452.94" cy="82.25" r="1.65" fill="#0000ff"/>
<circle cx="458.61" cy="74.92" r="1.65" fill="#0000ff"/>
<circle cx="464.27" cy="100.94" r="1.65" fill="#0000ff"/>
<circle cx="469.93" cy="74.28" r="1.65" fill="#0000ff"/>
<circle cx="475.60" cy="61.84" r="1.65" fill="#0000ff"/>
<circle cx="481.26" cy="76.85" r="1.65" fill="#0000ff"/>
<circle cx="486.92" cy="84.65" r="1.65" fill="#0000ff"/>
<circle cx="492.59" cy="70.61" r="1.65" fill="#0000ff"/>
<circle cx="498.25" cy="149.69" r="1.65" fill="#0000ff"/>
<circle cx="503.92" cy="72.53" r="1.65" fill="#0000ff"/>
<circle cx="509.58" cy="88.54" r="1.65" fill="#0000ff"/>
<circle cx="515.24" cy="108.41" r="1.65" fill="#0000ff"/>
<circle cx="520.91" cy="82.25" r="1.65" fill="#0000ff"/>
<circle cx="526.57" cy="90.23" r="1.65" fill="#0000ff"/>
<circle cx="532.24" cy="99.00" r="1.65" fill="#0000ff"/>
<circle cx="537.90" cy="96.29" r="1.65" fill="#0000ff"/>
<text x="363.30" y="41.20" font-size="10.55" text-anchor="start" font-weight="normal" fill="#1c1c1c">Right-handed rotation(Sim.)</text>
<text x="363.30" y="55.90" font-size="10.55" text-anchor="start" font-weight="normal" fill="#1c1c1c">Right-handed rotation(Meas.)</text>
<text x="362.90" y="163.00" font-size="10.4" text-anchor="start" font-weight="normal" fill="#1c1c1c">Left-handed rotation(Sim.)</text>
<text x="362.90" y="178.00" font-size="10.4" text-anchor="start" font-weight="normal" fill="#1c1c1c">Left-handed rotation(Meas.)</text>
<line x1="342.2" y1="39.0" x2="355.8" y2="39.0" stroke="#ff0000" stroke-width="1.6"/>
<circle cx="349.00" cy="39.0" r="1.6" fill="#ff0000"/>
<line x1="342.2" y1="53.8" x2="355.8" y2="53.8" stroke="#ff0000" stroke-width="1.6" stroke-dasharray="4.4 4.0 4.4"/>
<circle cx="349.00" cy="53.8" r="1.6" fill="#ff0000"/>
<line x1="342.4" y1="160.0" x2="355.8" y2="160.0" stroke="#0000ff" stroke-width="1.6"/>
<circle cx="349.10" cy="160.0" r="1.6" fill="#0000ff"/>
<line x1="342.4" y1="174.9" x2="355.8" y2="174.9" stroke="#0000ff" stroke-width="1.6" stroke-dasharray="4.4 4.0 4.4"/>
<circle cx="349.10" cy="174.9" r="1.6" fill="#0000ff"/>
<rect x="334.0" y="10.5" width="203.90" height="175.40" fill="none" stroke="#151515" stroke-width="1.5"/>
<line x1="350.99" y1="185.9" x2="350.99" y2="183.3" stroke="#151515" stroke-width="1.2"/>
<line x1="350.99" y1="10.5" x2="350.99" y2="13.1" stroke="#151515" stroke-width="1.2"/>
<line x1="367.98" y1="185.9" x2="367.98" y2="183.3" stroke="#151515" stroke-width="1.2"/>
<line x1="367.98" y1="10.5" x2="367.98" y2="13.1" stroke="#151515" stroke-width="1.2"/>
<line x1="384.98" y1="185.9" x2="384.98" y2="183.3" stroke="#151515" stroke-width="1.2"/>
<line x1="384.98" y1="10.5" x2="384.98" y2="13.1" stroke="#151515" stroke-width="1.2"/>
<line x1="401.97" y1="185.9" x2="401.97" y2="183.3" stroke="#151515" stroke-width="1.2"/>
<line x1="401.97" y1="10.5" x2="401.97" y2="13.1" stroke="#151515" stroke-width="1.2"/>
<line x1="418.96" y1="185.9" x2="418.96" y2="183.3" stroke="#151515" stroke-width="1.2"/>
<line x1="418.96" y1="10.5" x2="418.96" y2="13.1" stroke="#151515" stroke-width="1.2"/>
<line x1="435.95" y1="185.9" x2="435.95" y2="183.3" stroke="#151515" stroke-width="1.2"/>
<line x1="435.95" y1="10.5" x2="435.95" y2="13.1" stroke="#151515" stroke-width="1.2"/>
<line x1="452.94" y1="185.9" x2="452.94" y2="183.3" stroke="#151515" stroke-width="1.2"/>
<line x1="452.94" y1="10.5" x2="452.94" y2="13.1" stroke="#151515" stroke-width="1.2"/>
<line x1="469.93" y1="185.9" x2="469.93" y2="183.3" stroke="#151515" stroke-width="1.2"/>
<line x1="469.93" y1="10.5" x2="469.93" y2="13.1" stroke="#151515" stroke-width="1.2"/>
<line x1="486.92" y1="185.9" x2="486.92" y2="183.3" stroke="#151515" stroke-width="1.2"/>
<line x1="486.92" y1="10.5" x2="486.92" y2="13.1" stroke="#151515" stroke-width="1.2"/>
<line x1="503.92" y1="185.9" x2="503.92" y2="183.3" stroke="#151515" stroke-width="1.2"/>
<line x1="503.92" y1="10.5" x2="503.92" y2="13.1" stroke="#151515" stroke-width="1.2"/>
<line x1="520.91" y1="185.9" x2="520.91" y2="183.3" stroke="#151515" stroke-width="1.2"/>
<line x1="520.91" y1="10.5" x2="520.91" y2="13.1" stroke="#151515" stroke-width="1.2"/>
<line x1="334.0" y1="169.95" x2="336.6" y2="169.95" stroke="#151515" stroke-width="1.2"/>
<line x1="537.9" y1="169.95" x2="535.3" y2="169.95" stroke="#151515" stroke-width="1.2"/>
<line x1="334.0" y1="138.06" x2="336.6" y2="138.06" stroke="#151515" stroke-width="1.2"/>
<line x1="537.9" y1="138.06" x2="535.3" y2="138.06" stroke="#151515" stroke-width="1.2"/>
<line x1="334.0" y1="106.17" x2="336.6" y2="106.17" stroke="#151515" stroke-width="1.2"/>
<line x1="537.9" y1="106.17" x2="535.3" y2="106.17" stroke="#151515" stroke-width="1.2"/>
<line x1="334.0" y1="74.28" x2="336.6" y2="74.28" stroke="#151515" stroke-width="1.2"/>
<line x1="537.9" y1="74.28" x2="535.3" y2="74.28" stroke="#151515" stroke-width="1.2"/>
<line x1="334.0" y1="42.39" x2="336.6" y2="42.39" stroke="#151515" stroke-width="1.2"/>
<line x1="537.9" y1="42.39" x2="535.3" y2="42.39" stroke="#151515" stroke-width="1.2"/>
<text x="329.50" y="174.65" font-size="13.3" text-anchor="end" font-weight="normal" fill="#1c1c1c">-30</text>
<text x="329.50" y="142.76" font-size="13.3" text-anchor="end" font-weight="normal" fill="#1c1c1c">-20</text>
<text x="329.50" y="110.87" font-size="13.3" text-anchor="end" font-weight="normal" fill="#1c1c1c">-10</text>
<text x="329.50" y="78.98" font-size="13.3" text-anchor="end" font-weight="normal" fill="#1c1c1c">0</text>
<text x="329.50" y="47.09" font-size="13.3" text-anchor="end" font-weight="normal" fill="#1c1c1c">10</text>
<text x="329.50" y="15.20" font-size="13.3" text-anchor="end" font-weight="normal" fill="#1c1c1c">20</text>
<text x="332.80" y="204.60" font-size="13.3" text-anchor="middle" font-weight="normal" fill="#1c1c1c">-90</text>
<text x="366.78" y="204.60" font-size="13.3" text-anchor="middle" font-weight="normal" fill="#1c1c1c">-60</text>
<text x="400.77" y="204.60" font-size="13.3" text-anchor="middle" font-weight="normal" fill="#1c1c1c">-30</text>
<text x="435.95" y="204.60" font-size="13.3" text-anchor="middle" font-weight="normal" fill="#1c1c1c">0</text>
<text x="469.93" y="204.60" font-size="13.3" text-anchor="middle" font-weight="normal" fill="#1c1c1c">30</text>
<text x="503.92" y="204.60" font-size="13.3" text-anchor="middle" font-weight="normal" fill="#1c1c1c">60</text>
<text x="537.90" y="204.60" font-size="13.3" text-anchor="middle" font-weight="normal" fill="#1c1c1c">90</text>
<text x="435.90" y="222.50" font-size="13.6" text-anchor="middle" font-weight="normal" fill="#1c1c1c">Angle(°)</text>
<text x="303.40" y="91.20" font-size="13.6" text-anchor="middle" font-weight="normal" fill="#1c1c1c" transform="rotate(-90 303.40 91.20)">Gain(dB)</text>
<text x="418.3" y="241.0" font-size="13.8" text-anchor="middle" fill="#1c1c1c">(<tspan font-weight="bold">b</tspan>)</text>
<line x1="58.85" y1="257.6" x2="58.85" y2="421.7" stroke="#e0e0e0" stroke-width="0.8" stroke-dasharray="1 1"/>
<line x1="74.70" y1="257.6" x2="74.70" y2="421.7" stroke="#e0e0e0" stroke-width="0.8" stroke-dasharray="1 1"/>
<line x1="90.55" y1="257.6" x2="90.55" y2="421.7" stroke="#e0e0e0" stroke-width="0.8" stroke-dasharray="1 1"/>
<line x1="106.40" y1="257.6" x2="106.40" y2="421.7" stroke="#e0e0e0" stroke-width="0.8" stroke-dasharray="1 1"/>
<line x1="122.25" y1="257.6" x2="122.25" y2="421.7" stroke="#e0e0e0" stroke-width="0.8" stroke-dasharray="1 1"/>
<line x1="138.10" y1="257.6" x2="138.10" y2="421.7" stroke="#e0e0e0" stroke-width="0.8" stroke-dasharray="1 1"/>
<line x1="153.95" y1="257.6" x2="153.95" y2="421.7" stroke="#e0e0e0" stroke-width="0.8" stroke-dasharray="1 1"/>
<line x1="169.80" y1="257.6" x2="169.80" y2="421.7" stroke="#e0e0e0" stroke-width="0.8" stroke-dasharray="1 1"/>
<line x1="185.65" y1="257.6" x2="185.65" y2="421.7" stroke="#e0e0e0" stroke-width="0.8" stroke-dasharray="1 1"/>
<line x1="201.50" y1="257.6" x2="201.50" y2="421.7" stroke="#e0e0e0" stroke-width="0.8" stroke-dasharray="1 1"/>
<line x1="217.35" y1="257.6" x2="217.35" y2="421.7" stroke="#e0e0e0" stroke-width="0.8" stroke-dasharray="1 1"/>
<line x1="43.0" y1="401.19" x2="233.2" y2="401.19" stroke="#e0e0e0" stroke-width="0.8" stroke-dasharray="1 1"/>
<line x1="43.0" y1="380.68" x2="233.2" y2="380.68" stroke="#e0e0e0" stroke-width="0.8" stroke-dasharray="1 1"/>
<line x1="43.0" y1="360.16" x2="233.2" y2="360.16" stroke="#e0e0e0" stroke-width="0.8" stroke-dasharray="1 1"/>
<line x1="43.0" y1="339.65" x2="233.2" y2="339.65" stroke="#e0e0e0" stroke-width="0.8" stroke-dasharray="1 1"/>
<line x1="43.0" y1="319.14" x2="233.2" y2="319.14" stroke="#e0e0e0" stroke-width="0.8" stroke-dasharray="1 1"/>
<line x1="43.0" y1="298.62" x2="233.2" y2="298.62" stroke="#e0e0e0" stroke-width="0.8" stroke-dasharray="1 1"/>
<line x1="43.0" y1="278.11" x2="233.2" y2="278.11" stroke="#e0e0e0" stroke-width="0.8" stroke-dasharray="1 1"/>
<polyline points="43.00,373.29 58.85,344.00 74.70,319.96 90.55,307.65 106.40,299.45 122.25,296.16 138.10,291.24 153.95,292.06 169.80,294.52 185.65,293.21 201.50,296.98 217.35,303.55 233.20,310.11" fill="none" stroke="#111111" stroke-width="1.5" stroke-linejoin="round" stroke-linecap="butt" stroke-dasharray="4 1 1.2 1"/>
<polyline points="43.00,338.01 58.85,351.96 74.70,373.29 90.55,383.14 106.40,387.65 122.25,398.73 138.10,405.04 153.95,411.94 169.80,416.78 185.65,404.31 201.50,397.25 217.35,395.85 233.20,389.86" fill="none" stroke="#111111" stroke-width="1.5" stroke-linejoin="round" stroke-linecap="butt" stroke-dasharray="4 1 1.2 1"/>
<polyline points="43.00,356.06 58.85,321.27 74.70,304.37 90.55,294.52 106.40,289.60 122.25,287.14 138.10,284.27 153.95,282.71 169.80,286.32 185.65,291.24 201.50,303.55 217.35,313.39 233.20,319.96" fill="none" stroke="#ff0000" stroke-width="1.6" stroke-linejoin="round" stroke-linecap="butt"/>
<polyline points="43.00,369.52 58.85,377.80 74.70,380.18 90.55,387.65 106.40,394.87 122.25,399.22 138.10,405.04 153.95,416.28 169.80,405.29 185.65,388.63 201.50,378.54 217.35,377.80 233.20,366.73" fill="none" stroke="#ff0000" stroke-width="1.6" stroke-linejoin="round" stroke-linecap="butt"/>
<rect x="43.0" y="257.6" width="190.20" height="164.10" fill="none" stroke="#151515" stroke-width="1.5"/>
<line x1="58.85" y1="421.7" x2="58.85" y2="419.09999999999997" stroke="#151515" stroke-width="1.2"/>
<line x1="58.85" y1="257.6" x2="58.85" y2="260.20000000000005" stroke="#151515" stroke-width="1.2"/>
<line x1="74.70" y1="421.7" x2="74.70" y2="419.09999999999997" stroke="#151515" stroke-width="1.2"/>
<line x1="74.70" y1="257.6" x2="74.70" y2="260.20000000000005" stroke="#151515" stroke-width="1.2"/>
<line x1="90.55" y1="421.7" x2="90.55" y2="419.09999999999997" stroke="#151515" stroke-width="1.2"/>
<line x1="90.55" y1="257.6" x2="90.55" y2="260.20000000000005" stroke="#151515" stroke-width="1.2"/>
<line x1="106.40" y1="421.7" x2="106.40" y2="419.09999999999997" stroke="#151515" stroke-width="1.2"/>
<line x1="106.40" y1="257.6" x2="106.40" y2="260.20000000000005" stroke="#151515" stroke-width="1.2"/>
<line x1="122.25" y1="421.7" x2="122.25" y2="419.09999999999997" stroke="#151515" stroke-width="1.2"/>
<line x1="122.25" y1="257.6" x2="122.25" y2="260.20000000000005" stroke="#151515" stroke-width="1.2"/>
<line x1="138.10" y1="421.7" x2="138.10" y2="419.09999999999997" stroke="#151515" stroke-width="1.2"/>
<line x1="138.10" y1="257.6" x2="138.10" y2="260.20000000000005" stroke="#151515" stroke-width="1.2"/>
<line x1="153.95" y1="421.7" x2="153.95" y2="419.09999999999997" stroke="#151515" stroke-width="1.2"/>
<line x1="153.95" y1="257.6" x2="153.95" y2="260.20000000000005" stroke="#151515" stroke-width="1.2"/>
<line x1="169.80" y1="421.7" x2="169.80" y2="419.09999999999997" stroke="#151515" stroke-width="1.2"/>
<line x1="169.80" y1="257.6" x2="169.80" y2="260.20000000000005" stroke="#151515" stroke-width="1.2"/>
<line x1="185.65" y1="421.7" x2="185.65" y2="419.09999999999997" stroke="#151515" stroke-width="1.2"/>
<line x1="185.65" y1="257.6" x2="185.65" y2="260.20000000000005" stroke="#151515" stroke-width="1.2"/>
<line x1="201.50" y1="421.7" x2="201.50" y2="419.09999999999997" stroke="#151515" stroke-width="1.2"/>
<line x1="201.50" y1="257.6" x2="201.50" y2="260.20000000000005" stroke="#151515" stroke-width="1.2"/>
<line x1="217.35" y1="421.7" x2="217.35" y2="419.09999999999997" stroke="#151515" stroke-width="1.2"/>
<line x1="217.35" y1="257.6" x2="217.35" y2="260.20000000000005" stroke="#151515" stroke-width="1.2"/>
<line x1="43.0" y1="401.19" x2="45.6" y2="401.19" stroke="#151515" stroke-width="1.2"/>
<line x1="233.2" y1="401.19" x2="230.6" y2="401.19" stroke="#151515" stroke-width="1.2"/>
<line x1="43.0" y1="380.68" x2="45.6" y2="380.68" stroke="#151515" stroke-width="1.2"/>
<line x1="233.2" y1="380.68" x2="230.6" y2="380.68" stroke="#151515" stroke-width="1.2"/>
<line x1="43.0" y1="360.16" x2="45.6" y2="360.16" stroke="#151515" stroke-width="1.2"/>
<line x1="233.2" y1="360.16" x2="230.6" y2="360.16" stroke="#151515" stroke-width="1.2"/>
<line x1="43.0" y1="339.65" x2="45.6" y2="339.65" stroke="#151515" stroke-width="1.2"/>
<line x1="233.2" y1="339.65" x2="230.6" y2="339.65" stroke="#151515" stroke-width="1.2"/>
<line x1="43.0" y1="319.14" x2="45.6" y2="319.14" stroke="#151515" stroke-width="1.2"/>
<line x1="233.2" y1="319.14" x2="230.6" y2="319.14" stroke="#151515" stroke-width="1.2"/>
<line x1="43.0" y1="298.62" x2="45.6" y2="298.62" stroke="#151515" stroke-width="1.2"/>
<line x1="233.2" y1="298.62" x2="230.6" y2="298.62" stroke="#151515" stroke-width="1.2"/>
<line x1="43.0" y1="278.11" x2="45.6" y2="278.11" stroke="#151515" stroke-width="1.2"/>
<line x1="233.2" y1="278.11" x2="230.6" y2="278.11" stroke="#151515" stroke-width="1.2"/>
<text x="37.80" y="426.40" font-size="13.3" text-anchor="end" font-weight="normal" fill="#1c1c1c">0</text>
<text x="239.00" y="426.40" font-size="13.3" text-anchor="start" font-weight="normal" fill="#1c1c1c">0</text>
<text x="37.80" y="385.38" font-size="13.3" text-anchor="end" font-weight="normal" fill="#1c1c1c">5</text>
<text x="239.00" y="385.38" font-size="13.3" text-anchor="start" font-weight="normal" fill="#1c1c1c">5</text>
<text x="37.80" y="344.35" font-size="13.3" text-anchor="end" font-weight="normal" fill="#1c1c1c">10</text>
<text x="239.00" y="344.35" font-size="13.3" text-anchor="start" font-weight="normal" fill="#1c1c1c">10</text>
<text x="37.80" y="303.32" font-size="13.3" text-anchor="end" font-weight="normal" fill="#1c1c1c">15</text>
<text x="239.00" y="303.32" font-size="13.3" text-anchor="start" font-weight="normal" fill="#1c1c1c">15</text>
<text x="37.80" y="262.30" font-size="13.3" text-anchor="end" font-weight="normal" fill="#1c1c1c">20</text>
<text x="239.00" y="262.30" font-size="13.3" text-anchor="start" font-weight="normal" fill="#1c1c1c">20</text>
<text x="43.00" y="440.40" font-size="13.3" text-anchor="middle" font-weight="normal" fill="#1c1c1c">3.2</text>
<text x="74.70" y="440.40" font-size="13.3" text-anchor="middle" font-weight="normal" fill="#1c1c1c">3.3</text>
<text x="106.40" y="440.40" font-size="13.3" text-anchor="middle" font-weight="normal" fill="#1c1c1c">3.4</text>
<text x="138.10" y="440.40" font-size="13.3" text-anchor="middle" font-weight="normal" fill="#1c1c1c">3.5</text>
<text x="169.80" y="440.40" font-size="13.3" text-anchor="middle" font-weight="normal" fill="#1c1c1c">3.6</text>
<text x="201.50" y="440.40" font-size="13.3" text-anchor="middle" font-weight="normal" fill="#1c1c1c">3.7</text>
<text x="233.20" y="440.40" font-size="13.3" text-anchor="middle" font-weight="normal" fill="#1c1c1c">3.8</text>
<text x="137.60" y="458.10" font-size="13.6" text-anchor="middle" font-weight="normal" fill="#1c1c1c">Frequency(GHz)</text>
<text x="16.25" y="339.40" font-size="13.6" text-anchor="middle" font-weight="normal" fill="#1c1c1c" transform="rotate(-90 16.25 339.40)">Axial ratio(dB)</text>
<text x="270.10" y="340.30" font-size="13.6" text-anchor="middle" font-weight="normal" fill="#1c1c1c" transform="rotate(-90 270.10 340.30)">Gain(dB)</text>
<text x="138" y="479" font-size="13.8" text-anchor="middle" fill="#1c1c1c">(<tspan font-weight="bold">c</tspan>)</text>
<line x1="120.9" y1="325.1" x2="133.7" y2="325.1" stroke="#ff0000" stroke-width="1.6"/>
<text x="138.00" y="328.60" font-size="10.4" text-anchor="start" font-weight="normal" fill="#1c1c1c">Simulation</text>
<line x1="120.9" y1="341.9" x2="133.7" y2="341.9" stroke="#111111" stroke-width="1.6" stroke-dasharray="4 1 1.2 1"/>
<text x="138.40" y="345.60" font-size="10.4" text-anchor="start" font-weight="normal" fill="#1c1c1c">Measurement</text>
<ellipse cx="147" cy="289.65" rx="3.7" ry="19" fill="none" stroke="#151515" stroke-width="1.25"/>
<line x1="147" y1="270.7" x2="170" y2="270.7" stroke="#151515" stroke-width="1.25"/>
<polygon points="176.6,270.7 169,268.6 169,272.8" fill="#151515"/>
<ellipse cx="107" cy="383.4" rx="3.4" ry="18.9" fill="none" stroke="#151515" stroke-width="1.25"/>
<line x1="107" y1="402.6" x2="90" y2="402.6" stroke="#151515" stroke-width="1.25"/>
<polygon points="83.8,402.6 90.8,400.5 90.8,404.7" fill="#151515"/>
<line x1="350.67" y1="258.7" x2="350.67" y2="422.6" stroke="#e0e0e0" stroke-width="0.8" stroke-dasharray="1 1"/>
<line x1="366.53" y1="258.7" x2="366.53" y2="422.6" stroke="#e0e0e0" stroke-width="0.8" stroke-dasharray="1 1"/>
<line x1="382.40" y1="258.7" x2="382.40" y2="422.6" stroke="#e0e0e0" stroke-width="0.8" stroke-dasharray="1 1"/>
<line x1="398.27" y1="258.7" x2="398.27" y2="422.6" stroke="#e0e0e0" stroke-width="0.8" stroke-dasharray="1 1"/>
<line x1="414.13" y1="258.7" x2="414.13" y2="422.6" stroke="#e0e0e0" stroke-width="0.8" stroke-dasharray="1 1"/>
<line x1="430.00" y1="258.7" x2="430.00" y2="422.6" stroke="#e0e0e0" stroke-width="0.8" stroke-dasharray="1 1"/>
<line x1="445.87" y1="258.7" x2="445.87" y2="422.6" stroke="#e0e0e0" stroke-width="0.8" stroke-dasharray="1 1"/>
<line x1="461.73" y1="258.7" x2="461.73" y2="422.6" stroke="#e0e0e0" stroke-width="0.8" stroke-dasharray="1 1"/>
<line x1="477.60" y1="258.7" x2="477.60" y2="422.6" stroke="#e0e0e0" stroke-width="0.8" stroke-dasharray="1 1"/>
<line x1="493.47" y1="258.7" x2="493.47" y2="422.6" stroke="#e0e0e0" stroke-width="0.8" stroke-dasharray="1 1"/>
<line x1="509.33" y1="258.7" x2="509.33" y2="422.6" stroke="#e0e0e0" stroke-width="0.8" stroke-dasharray="1 1"/>
<line x1="334.8" y1="406.21" x2="525.2" y2="406.21" stroke="#e0e0e0" stroke-width="0.8" stroke-dasharray="1 1"/>
<line x1="334.8" y1="389.82" x2="525.2" y2="389.82" stroke="#e0e0e0" stroke-width="0.8" stroke-dasharray="1 1"/>
<line x1="334.8" y1="373.43" x2="525.2" y2="373.43" stroke="#e0e0e0" stroke-width="0.8" stroke-dasharray="1 1"/>
<line x1="334.8" y1="357.04" x2="525.2" y2="357.04" stroke="#e0e0e0" stroke-width="0.8" stroke-dasharray="1 1"/>
<line x1="334.8" y1="340.65" x2="525.2" y2="340.65" stroke="#e0e0e0" stroke-width="0.8" stroke-dasharray="1 1"/>
<line x1="334.8" y1="324.26" x2="525.2" y2="324.26" stroke="#e0e0e0" stroke-width="0.8" stroke-dasharray="1 1"/>
<line x1="334.8" y1="307.87" x2="525.2" y2="307.87" stroke="#e0e0e0" stroke-width="0.8" stroke-dasharray="1 1"/>
<line x1="334.8" y1="291.48" x2="525.2" y2="291.48" stroke="#e0e0e0" stroke-width="0.8" stroke-dasharray="1 1"/>
<line x1="334.8" y1="275.09" x2="525.2" y2="275.09" stroke="#e0e0e0" stroke-width="0.8" stroke-dasharray="1 1"/>
<polyline points="334.80,304.15 430.00,300.66 461.73,298.47 493.47,296.51 525.20,294.10" fill="none" stroke="#ff0000" stroke-width="1.6" stroke-linejoin="round" stroke-linecap="butt"/>
<polyline points="334.80,324.20 366.50,315.10 398.30,308.10 430.00,300.10 445.90,302.10 461.70,303.50 477.60,302.10 493.50,300.70 509.30,297.10 525.20,293.70" fill="none" stroke="#111111" stroke-width="1.5" stroke-linejoin="round" stroke-linecap="butt" stroke-dasharray="4 1 1.2 1"/>
<rect x="334.8" y="258.7" width="190.40" height="163.90" fill="none" stroke="#151515" stroke-width="1.5"/>
<line x1="350.67" y1="422.6" x2="350.67" y2="420.0" stroke="#151515" stroke-width="1.2"/>
<line x1="350.67" y1="258.7" x2="350.67" y2="261.3" stroke="#151515" stroke-width="1.2"/>
<line x1="366.53" y1="422.6" x2="366.53" y2="420.0" stroke="#151515" stroke-width="1.2"/>
<line x1="366.53" y1="258.7" x2="366.53" y2="261.3" stroke="#151515" stroke-width="1.2"/>
<line x1="382.40" y1="422.6" x2="382.40" y2="420.0" stroke="#151515" stroke-width="1.2"/>
<line x1="382.40" y1="258.7" x2="382.40" y2="261.3" stroke="#151515" stroke-width="1.2"/>
<line x1="398.27" y1="422.6" x2="398.27" y2="420.0" stroke="#151515" stroke-width="1.2"/>
<line x1="398.27" y1="258.7" x2="398.27" y2="261.3" stroke="#151515" stroke-width="1.2"/>
<line x1="414.13" y1="422.6" x2="414.13" y2="420.0" stroke="#151515" stroke-width="1.2"/>
<line x1="414.13" y1="258.7" x2="414.13" y2="261.3" stroke="#151515" stroke-width="1.2"/>
<line x1="430.00" y1="422.6" x2="430.00" y2="420.0" stroke="#151515" stroke-width="1.2"/>
<line x1="430.00" y1="258.7" x2="430.00" y2="261.3" stroke="#151515" stroke-width="1.2"/>
<line x1="445.87" y1="422.6" x2="445.87" y2="420.0" stroke="#151515" stroke-width="1.2"/>
<line x1="445.87" y1="258.7" x2="445.87" y2="261.3" stroke="#151515" stroke-width="1.2"/>
<line x1="461.73" y1="422.6" x2="461.73" y2="420.0" stroke="#151515" stroke-width="1.2"/>
<line x1="461.73" y1="258.7" x2="461.73" y2="261.3" stroke="#151515" stroke-width="1.2"/>
<line x1="477.60" y1="422.6" x2="477.60" y2="420.0" stroke="#151515" stroke-width="1.2"/>
<line x1="477.60" y1="258.7" x2="477.60" y2="261.3" stroke="#151515" stroke-width="1.2"/>
<line x1="493.47" y1="422.6" x2="493.47" y2="420.0" stroke="#151515" stroke-width="1.2"/>
<line x1="493.47" y1="258.7" x2="493.47" y2="261.3" stroke="#151515" stroke-width="1.2"/>
<line x1="509.33" y1="422.6" x2="509.33" y2="420.0" stroke="#151515" stroke-width="1.2"/>
<line x1="509.33" y1="258.7" x2="509.33" y2="261.3" stroke="#151515" stroke-width="1.2"/>
<line x1="334.8" y1="406.21" x2="337.40000000000003" y2="406.21" stroke="#151515" stroke-width="1.2"/>
<line x1="525.2" y1="406.21" x2="522.6" y2="406.21" stroke="#151515" stroke-width="1.2"/>
<line x1="334.8" y1="389.82" x2="337.40000000000003" y2="389.82" stroke="#151515" stroke-width="1.2"/>
<line x1="525.2" y1="389.82" x2="522.6" y2="389.82" stroke="#151515" stroke-width="1.2"/>
<line x1="334.8" y1="373.43" x2="337.40000000000003" y2="373.43" stroke="#151515" stroke-width="1.2"/>
<line x1="525.2" y1="373.43" x2="522.6" y2="373.43" stroke="#151515" stroke-width="1.2"/>
<line x1="334.8" y1="357.04" x2="337.40000000000003" y2="357.04" stroke="#151515" stroke-width="1.2"/>
<line x1="525.2" y1="357.04" x2="522.6" y2="357.04" stroke="#151515" stroke-width="1.2"/>
<line x1="334.8" y1="340.65" x2="337.40000000000003" y2="340.65" stroke="#151515" stroke-width="1.2"/>
<line x1="525.2" y1="340.65" x2="522.6" y2="340.65" stroke="#151515" stroke-width="1.2"/>
<line x1="334.8" y1="324.26" x2="337.40000000000003" y2="324.26" stroke="#151515" stroke-width="1.2"/>
<line x1="525.2" y1="324.26" x2="522.6" y2="324.26" stroke="#151515" stroke-width="1.2"/>
<line x1="334.8" y1="307.87" x2="337.40000000000003" y2="307.87" stroke="#151515" stroke-width="1.2"/>
<line x1="525.2" y1="307.87" x2="522.6" y2="307.87" stroke="#151515" stroke-width="1.2"/>
<line x1="334.8" y1="291.48" x2="337.40000000000003" y2="291.48" stroke="#151515" stroke-width="1.2"/>
<line x1="525.2" y1="291.48" x2="522.6" y2="291.48" stroke="#151515" stroke-width="1.2"/>
<line x1="334.8" y1="275.09" x2="337.40000000000003" y2="275.09" stroke="#151515" stroke-width="1.2"/>
<line x1="525.2" y1="275.09" x2="522.6" y2="275.09" stroke="#151515" stroke-width="1.2"/>
<text x="329.30" y="427.40" font-size="13.3" text-anchor="end" font-weight="normal" fill="#1c1c1c">0</text>
<text x="329.30" y="394.62" font-size="13.3" text-anchor="end" font-weight="normal" fill="#1c1c1c">3</text>
<text x="329.30" y="361.84" font-size="13.3" text-anchor="end" font-weight="normal" fill="#1c1c1c">6</text>
<text x="329.30" y="329.06" font-size="13.3" text-anchor="end" font-weight="normal" fill="#1c1c1c">9</text>
<text x="329.30" y="296.28" font-size="13.3" text-anchor="end" font-weight="normal" fill="#1c1c1c">12</text>
<text x="329.30" y="263.50" font-size="13.3" text-anchor="end" font-weight="normal" fill="#1c1c1c">15</text>
<text x="334.80" y="441.20" font-size="13.3" text-anchor="middle" font-weight="normal" fill="#1c1c1c">3.2</text>
<text x="366.53" y="441.20" font-size="13.3" text-anchor="middle" font-weight="normal" fill="#1c1c1c">3.3</text>
<text x="398.27" y="441.20" font-size="13.3" text-anchor="middle" font-weight="normal" fill="#1c1c1c">3.4</text>
<text x="430.00" y="441.20" font-size="13.3" text-anchor="middle" font-weight="normal" fill="#1c1c1c">3.5</text>
<text x="461.73" y="441.20" font-size="13.3" text-anchor="middle" font-weight="normal" fill="#1c1c1c">3.6</text>
<text x="493.47" y="441.20" font-size="13.3" text-anchor="middle" font-weight="normal" fill="#1c1c1c">3.7</text>
<text x="525.20" y="441.20" font-size="13.3" text-anchor="middle" font-weight="normal" fill="#1c1c1c">3.8</text>
<text x="430.60" y="457.50" font-size="13.6" text-anchor="middle" font-weight="normal" fill="#1c1c1c">Frequency(GHz)</text>
<text x="308.40" y="340.20" font-size="13.6" text-anchor="middle" font-weight="normal" fill="#1c1c1c" transform="rotate(-90 308.40 340.20)">Gain(dB)</text>
<text x="418.4" y="478.7" font-size="13.8" text-anchor="middle" fill="#1c1c1c">(<tspan font-weight="bold">d</tspan>)</text>
<line x1="414.4" y1="347.3" x2="427" y2="347.3" stroke="#ff0000" stroke-width="1.6"/>
<text x="431.40" y="351.30" font-size="10.4" text-anchor="start" font-weight="normal" fill="#1c1c1c">Simulation</text>
<line x1="414.4" y1="364.0" x2="427.2" y2="364.0" stroke="#111111" stroke-width="1.6" stroke-dasharray="4 1 1.2 1"/>
<text x="431.40" y="367.80" font-size="10.4" text-anchor="start" font-weight="normal" fill="#1c1c1c">Measurement</text>
</svg>
</body></html>
